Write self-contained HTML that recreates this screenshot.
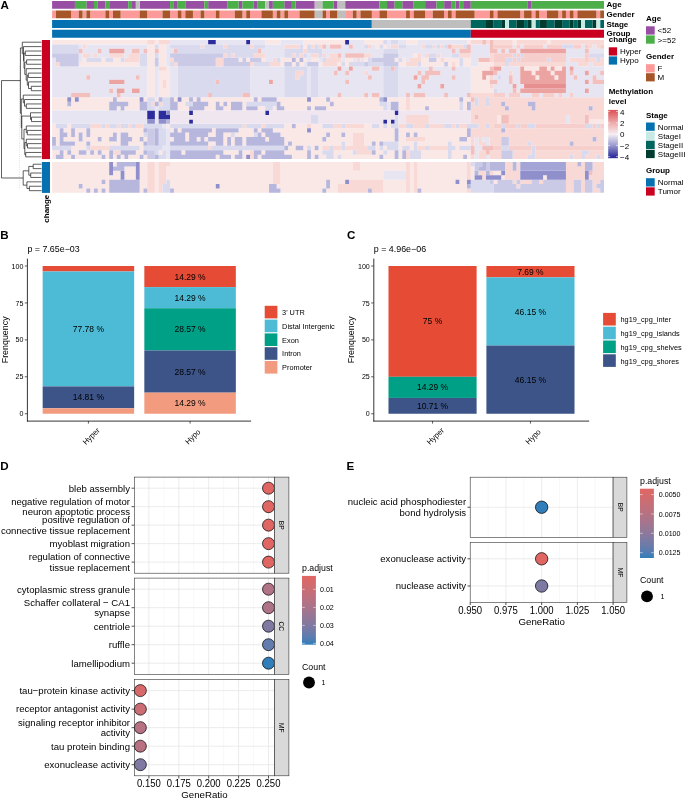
<!DOCTYPE html>
<html lang="en"><head><meta charset="utf-8"><title>Figure</title>
<style>
html,body{margin:0;padding:0;background:#fff}
svg{display:block}
text{font-family:"Liberation Sans",Arial,Helvetica,sans-serif;fill:#000}
</style></head>
<body>
<svg width="685" height="799" viewBox="0 0 685 799">
<rect width="685" height="799" fill="#fff"/>
<g id="annot">
<path fill="#984EA3" d="M52.1 0.9h3.81v7.9h-3.81zM55.91 0.9h3.81v7.9h-3.81zM59.71 0.9h3.81v7.9h-3.81zM63.52 0.9h3.81v7.9h-3.81zM67.32 0.9h3.81v7.9h-3.81zM71.13 0.9h3.81v7.9h-3.81zM86.36 0.9h3.81v7.9h-3.81zM90.16 0.9h3.81v7.9h-3.81zM97.77 0.9h3.81v7.9h-3.81zM101.58 0.9h3.81v7.9h-3.81zM109.19 0.9h3.81v7.9h-3.81zM113 0.9h3.81v7.9h-3.81zM116.81 0.9h3.81v7.9h-3.81zM120.61 0.9h3.81v7.9h-3.81zM124.42 0.9h3.81v7.9h-3.81zM132.03 0.9h3.81v7.9h-3.81zM139.64 0.9h3.81v7.9h-3.81zM143.45 0.9h3.81v7.9h-3.81zM147.26 0.9h3.81v7.9h-3.81zM151.06 0.9h3.81v7.9h-3.81zM154.87 0.9h3.81v7.9h-3.81zM158.67 0.9h3.81v7.9h-3.81zM162.48 0.9h3.81v7.9h-3.81zM166.29 0.9h3.81v7.9h-3.81zM173.9 0.9h3.81v7.9h-3.81zM185.32 0.9h3.81v7.9h-3.81zM189.12 0.9h3.81v7.9h-3.81zM192.93 0.9h3.81v7.9h-3.81zM196.74 0.9h3.81v7.9h-3.81zM200.54 0.9h3.81v7.9h-3.81zM208.15 0.9h3.81v7.9h-3.81zM211.96 0.9h3.81v7.9h-3.81zM215.77 0.9h3.81v7.9h-3.81zM219.57 0.9h3.81v7.9h-3.81zM223.38 0.9h3.81v7.9h-3.81zM238.6 0.9h3.81v7.9h-3.81zM253.83 0.9h3.81v7.9h-3.81zM269.05 0.9h3.81v7.9h-3.81zM284.28 0.9h3.81v7.9h-3.81zM288.08 0.9h3.81v7.9h-3.81zM295.7 0.9h3.81v7.9h-3.81zM299.5 0.9h3.81v7.9h-3.81zM303.31 0.9h3.81v7.9h-3.81zM307.12 0.9h3.81v7.9h-3.81zM310.92 0.9h3.81v7.9h-3.81zM333.76 0.9h3.81v7.9h-3.81zM345.18 0.9h3.81v7.9h-3.81zM348.98 0.9h3.81v7.9h-3.81zM352.79 0.9h3.81v7.9h-3.81zM356.6 0.9h3.81v7.9h-3.81zM360.4 0.9h3.81v7.9h-3.81zM364.21 0.9h3.81v7.9h-3.81zM368.02 0.9h3.81v7.9h-3.81zM371.82 0.9h3.81v7.9h-3.81zM375.63 0.9h3.81v7.9h-3.81zM387.05 0.9h3.81v7.9h-3.81zM390.85 0.9h3.81v7.9h-3.81zM402.27 0.9h3.81v7.9h-3.81zM406.08 0.9h3.81v7.9h-3.81zM409.88 0.9h3.81v7.9h-3.81zM425.11 0.9h3.81v7.9h-3.81zM428.91 0.9h3.81v7.9h-3.81zM432.72 0.9h3.81v7.9h-3.81zM444.14 0.9h3.81v7.9h-3.81zM447.95 0.9h3.81v7.9h-3.81zM455.56 0.9h3.81v7.9h-3.81zM463.17 0.9h3.81v7.9h-3.81zM466.98 0.9h3.81v7.9h-3.81zM527.88 0.9h3.81v7.9h-3.81z"/>
<path fill="#4DAF4A" d="M74.94 0.9h3.81v7.9h-3.81zM78.74 0.9h3.81v7.9h-3.81zM82.55 0.9h3.81v7.9h-3.81zM93.97 0.9h3.81v7.9h-3.81zM105.39 0.9h3.81v7.9h-3.81zM128.22 0.9h3.81v7.9h-3.81zM170.09 0.9h3.81v7.9h-3.81zM177.7 0.9h3.81v7.9h-3.81zM181.51 0.9h3.81v7.9h-3.81zM204.35 0.9h3.81v7.9h-3.81zM227.19 0.9h3.81v7.9h-3.81zM230.99 0.9h3.81v7.9h-3.81zM234.8 0.9h3.81v7.9h-3.81zM242.41 0.9h3.81v7.9h-3.81zM246.22 0.9h3.81v7.9h-3.81zM250.02 0.9h3.81v7.9h-3.81zM257.64 0.9h3.81v7.9h-3.81zM261.44 0.9h3.81v7.9h-3.81zM272.86 0.9h3.81v7.9h-3.81zM276.67 0.9h3.81v7.9h-3.81zM280.47 0.9h3.81v7.9h-3.81zM291.89 0.9h3.81v7.9h-3.81zM322.34 0.9h3.81v7.9h-3.81zM326.15 0.9h3.81v7.9h-3.81zM329.95 0.9h3.81v7.9h-3.81zM379.43 0.9h3.81v7.9h-3.81zM383.24 0.9h3.81v7.9h-3.81zM394.66 0.9h3.81v7.9h-3.81zM398.46 0.9h3.81v7.9h-3.81zM413.69 0.9h3.81v7.9h-3.81zM417.5 0.9h3.81v7.9h-3.81zM421.3 0.9h3.81v7.9h-3.81zM436.53 0.9h3.81v7.9h-3.81zM440.33 0.9h3.81v7.9h-3.81zM451.75 0.9h3.81v7.9h-3.81zM459.36 0.9h3.81v7.9h-3.81zM470.78 0.9h3.81v7.9h-3.81zM474.59 0.9h3.81v7.9h-3.81zM478.4 0.9h3.81v7.9h-3.81zM482.2 0.9h3.81v7.9h-3.81zM486.01 0.9h3.81v7.9h-3.81zM489.81 0.9h3.81v7.9h-3.81zM493.62 0.9h3.81v7.9h-3.81zM497.43 0.9h3.81v7.9h-3.81zM501.23 0.9h3.81v7.9h-3.81zM505.04 0.9h3.81v7.9h-3.81zM508.84 0.9h3.81v7.9h-3.81zM512.65 0.9h3.81v7.9h-3.81zM516.46 0.9h3.81v7.9h-3.81zM520.26 0.9h3.81v7.9h-3.81zM524.07 0.9h3.81v7.9h-3.81zM531.68 0.9h3.81v7.9h-3.81zM535.49 0.9h3.81v7.9h-3.81zM539.29 0.9h3.81v7.9h-3.81zM543.1 0.9h3.81v7.9h-3.81zM546.91 0.9h3.81v7.9h-3.81zM550.71 0.9h3.81v7.9h-3.81zM554.52 0.9h3.81v7.9h-3.81zM558.33 0.9h3.81v7.9h-3.81zM562.13 0.9h3.81v7.9h-3.81zM565.94 0.9h3.81v7.9h-3.81zM569.74 0.9h3.81v7.9h-3.81zM573.55 0.9h3.81v7.9h-3.81zM577.36 0.9h3.81v7.9h-3.81zM581.16 0.9h3.81v7.9h-3.81zM584.97 0.9h3.81v7.9h-3.81zM588.78 0.9h3.81v7.9h-3.81zM592.58 0.9h3.81v7.9h-3.81zM596.39 0.9h3.81v7.9h-3.81zM600.19 0.9h3.81v7.9h-3.81z"/>
<path fill="#BEBEBE" d="M135.84 0.9h3.81v7.9h-3.81zM265.25 0.9h3.81v7.9h-3.81zM314.73 0.9h3.81v7.9h-3.81zM318.53 0.9h3.81v7.9h-3.81zM337.57 0.9h3.81v7.9h-3.81zM341.37 0.9h3.81v7.9h-3.81z"/>
<path fill="#FB9A99" d="M52.1 10.4h3.81v7.9h-3.81zM71.13 10.4h3.81v7.9h-3.81zM74.94 10.4h3.81v7.9h-3.81zM82.55 10.4h3.81v7.9h-3.81zM90.16 10.4h3.81v7.9h-3.81zM93.97 10.4h3.81v7.9h-3.81zM97.77 10.4h3.81v7.9h-3.81zM101.58 10.4h3.81v7.9h-3.81zM109.19 10.4h3.81v7.9h-3.81zM120.61 10.4h3.81v7.9h-3.81zM124.42 10.4h3.81v7.9h-3.81zM128.22 10.4h3.81v7.9h-3.81zM132.03 10.4h3.81v7.9h-3.81zM135.84 10.4h3.81v7.9h-3.81zM147.26 10.4h3.81v7.9h-3.81zM151.06 10.4h3.81v7.9h-3.81zM154.87 10.4h3.81v7.9h-3.81zM158.67 10.4h3.81v7.9h-3.81zM170.09 10.4h3.81v7.9h-3.81zM173.9 10.4h3.81v7.9h-3.81zM181.51 10.4h3.81v7.9h-3.81zM192.93 10.4h3.81v7.9h-3.81zM196.74 10.4h3.81v7.9h-3.81zM204.35 10.4h3.81v7.9h-3.81zM208.15 10.4h3.81v7.9h-3.81zM211.96 10.4h3.81v7.9h-3.81zM219.57 10.4h3.81v7.9h-3.81zM223.38 10.4h3.81v7.9h-3.81zM227.19 10.4h3.81v7.9h-3.81zM230.99 10.4h3.81v7.9h-3.81zM242.41 10.4h3.81v7.9h-3.81zM250.02 10.4h3.81v7.9h-3.81zM253.83 10.4h3.81v7.9h-3.81zM257.64 10.4h3.81v7.9h-3.81zM272.86 10.4h3.81v7.9h-3.81zM280.47 10.4h3.81v7.9h-3.81zM288.08 10.4h3.81v7.9h-3.81zM291.89 10.4h3.81v7.9h-3.81zM295.7 10.4h3.81v7.9h-3.81zM326.15 10.4h3.81v7.9h-3.81zM345.18 10.4h3.81v7.9h-3.81zM348.98 10.4h3.81v7.9h-3.81zM356.6 10.4h3.81v7.9h-3.81zM371.82 10.4h3.81v7.9h-3.81zM375.63 10.4h3.81v7.9h-3.81zM387.05 10.4h3.81v7.9h-3.81zM390.85 10.4h3.81v7.9h-3.81zM394.66 10.4h3.81v7.9h-3.81zM398.46 10.4h3.81v7.9h-3.81zM402.27 10.4h3.81v7.9h-3.81zM409.88 10.4h3.81v7.9h-3.81zM425.11 10.4h3.81v7.9h-3.81zM428.91 10.4h3.81v7.9h-3.81zM444.14 10.4h3.81v7.9h-3.81zM451.75 10.4h3.81v7.9h-3.81zM474.59 10.4h3.81v7.9h-3.81zM478.4 10.4h3.81v7.9h-3.81zM482.2 10.4h3.81v7.9h-3.81zM486.01 10.4h3.81v7.9h-3.81zM493.62 10.4h3.81v7.9h-3.81zM520.26 10.4h3.81v7.9h-3.81zM531.68 10.4h3.81v7.9h-3.81zM539.29 10.4h3.81v7.9h-3.81zM543.1 10.4h3.81v7.9h-3.81zM558.33 10.4h3.81v7.9h-3.81zM565.94 10.4h3.81v7.9h-3.81zM573.55 10.4h3.81v7.9h-3.81zM596.39 10.4h3.81v7.9h-3.81z"/>
<path fill="#A65628" d="M55.91 10.4h3.81v7.9h-3.81zM59.71 10.4h3.81v7.9h-3.81zM63.52 10.4h3.81v7.9h-3.81zM67.32 10.4h3.81v7.9h-3.81zM78.74 10.4h3.81v7.9h-3.81zM86.36 10.4h3.81v7.9h-3.81zM105.39 10.4h3.81v7.9h-3.81zM113 10.4h3.81v7.9h-3.81zM116.81 10.4h3.81v7.9h-3.81zM139.64 10.4h3.81v7.9h-3.81zM143.45 10.4h3.81v7.9h-3.81zM162.48 10.4h3.81v7.9h-3.81zM166.29 10.4h3.81v7.9h-3.81zM177.7 10.4h3.81v7.9h-3.81zM185.32 10.4h3.81v7.9h-3.81zM189.12 10.4h3.81v7.9h-3.81zM200.54 10.4h3.81v7.9h-3.81zM215.77 10.4h3.81v7.9h-3.81zM234.8 10.4h3.81v7.9h-3.81zM238.6 10.4h3.81v7.9h-3.81zM246.22 10.4h3.81v7.9h-3.81zM261.44 10.4h3.81v7.9h-3.81zM265.25 10.4h3.81v7.9h-3.81zM269.05 10.4h3.81v7.9h-3.81zM276.67 10.4h3.81v7.9h-3.81zM284.28 10.4h3.81v7.9h-3.81zM299.5 10.4h3.81v7.9h-3.81zM303.31 10.4h3.81v7.9h-3.81zM307.12 10.4h3.81v7.9h-3.81zM310.92 10.4h3.81v7.9h-3.81zM322.34 10.4h3.81v7.9h-3.81zM329.95 10.4h3.81v7.9h-3.81zM333.76 10.4h3.81v7.9h-3.81zM352.79 10.4h3.81v7.9h-3.81zM360.4 10.4h3.81v7.9h-3.81zM364.21 10.4h3.81v7.9h-3.81zM368.02 10.4h3.81v7.9h-3.81zM379.43 10.4h3.81v7.9h-3.81zM383.24 10.4h3.81v7.9h-3.81zM406.08 10.4h3.81v7.9h-3.81zM413.69 10.4h3.81v7.9h-3.81zM417.5 10.4h3.81v7.9h-3.81zM421.3 10.4h3.81v7.9h-3.81zM432.72 10.4h3.81v7.9h-3.81zM436.53 10.4h3.81v7.9h-3.81zM440.33 10.4h3.81v7.9h-3.81zM447.95 10.4h3.81v7.9h-3.81zM455.56 10.4h3.81v7.9h-3.81zM459.36 10.4h3.81v7.9h-3.81zM463.17 10.4h3.81v7.9h-3.81zM466.98 10.4h3.81v7.9h-3.81zM470.78 10.4h3.81v7.9h-3.81zM489.81 10.4h3.81v7.9h-3.81zM497.43 10.4h3.81v7.9h-3.81zM501.23 10.4h3.81v7.9h-3.81zM505.04 10.4h3.81v7.9h-3.81zM508.84 10.4h3.81v7.9h-3.81zM512.65 10.4h3.81v7.9h-3.81zM516.46 10.4h3.81v7.9h-3.81zM524.07 10.4h3.81v7.9h-3.81zM527.88 10.4h3.81v7.9h-3.81zM535.49 10.4h3.81v7.9h-3.81zM546.91 10.4h3.81v7.9h-3.81zM550.71 10.4h3.81v7.9h-3.81zM554.52 10.4h3.81v7.9h-3.81zM562.13 10.4h3.81v7.9h-3.81zM569.74 10.4h3.81v7.9h-3.81zM577.36 10.4h3.81v7.9h-3.81zM581.16 10.4h3.81v7.9h-3.81zM584.97 10.4h3.81v7.9h-3.81zM588.78 10.4h3.81v7.9h-3.81zM592.58 10.4h3.81v7.9h-3.81zM600.19 10.4h3.81v7.9h-3.81z"/>
<path fill="#BEBEBE" d="M314.73 10.4h3.81v7.9h-3.81zM318.53 10.4h3.81v7.9h-3.81zM337.57 10.4h3.81v7.9h-3.81zM341.37 10.4h3.81v7.9h-3.81z"/>
<path fill="#0571B0" d="M52.1 20h3.81v7.9h-3.81zM55.91 20h3.81v7.9h-3.81zM59.71 20h3.81v7.9h-3.81zM63.52 20h3.81v7.9h-3.81zM67.32 20h3.81v7.9h-3.81zM71.13 20h3.81v7.9h-3.81zM74.94 20h3.81v7.9h-3.81zM78.74 20h3.81v7.9h-3.81zM82.55 20h3.81v7.9h-3.81zM86.36 20h3.81v7.9h-3.81zM90.16 20h3.81v7.9h-3.81zM93.97 20h3.81v7.9h-3.81zM97.77 20h3.81v7.9h-3.81zM101.58 20h3.81v7.9h-3.81zM105.39 20h3.81v7.9h-3.81zM109.19 20h3.81v7.9h-3.81zM113 20h3.81v7.9h-3.81zM116.81 20h3.81v7.9h-3.81zM120.61 20h3.81v7.9h-3.81zM124.42 20h3.81v7.9h-3.81zM128.22 20h3.81v7.9h-3.81zM132.03 20h3.81v7.9h-3.81zM135.84 20h3.81v7.9h-3.81zM139.64 20h3.81v7.9h-3.81zM143.45 20h3.81v7.9h-3.81zM147.26 20h3.81v7.9h-3.81zM151.06 20h3.81v7.9h-3.81zM154.87 20h3.81v7.9h-3.81zM158.67 20h3.81v7.9h-3.81zM162.48 20h3.81v7.9h-3.81zM166.29 20h3.81v7.9h-3.81zM170.09 20h3.81v7.9h-3.81zM173.9 20h3.81v7.9h-3.81zM177.7 20h3.81v7.9h-3.81zM181.51 20h3.81v7.9h-3.81zM185.32 20h3.81v7.9h-3.81zM189.12 20h3.81v7.9h-3.81zM192.93 20h3.81v7.9h-3.81zM196.74 20h3.81v7.9h-3.81zM200.54 20h3.81v7.9h-3.81zM204.35 20h3.81v7.9h-3.81zM208.15 20h3.81v7.9h-3.81zM211.96 20h3.81v7.9h-3.81zM215.77 20h3.81v7.9h-3.81zM219.57 20h3.81v7.9h-3.81zM223.38 20h3.81v7.9h-3.81zM227.19 20h3.81v7.9h-3.81zM230.99 20h3.81v7.9h-3.81zM234.8 20h3.81v7.9h-3.81zM238.6 20h3.81v7.9h-3.81zM242.41 20h3.81v7.9h-3.81zM246.22 20h3.81v7.9h-3.81zM250.02 20h3.81v7.9h-3.81zM253.83 20h3.81v7.9h-3.81zM257.64 20h3.81v7.9h-3.81zM261.44 20h3.81v7.9h-3.81zM265.25 20h3.81v7.9h-3.81zM269.05 20h3.81v7.9h-3.81zM272.86 20h3.81v7.9h-3.81zM276.67 20h3.81v7.9h-3.81zM280.47 20h3.81v7.9h-3.81zM284.28 20h3.81v7.9h-3.81zM288.08 20h3.81v7.9h-3.81zM291.89 20h3.81v7.9h-3.81zM295.7 20h3.81v7.9h-3.81zM299.5 20h3.81v7.9h-3.81zM303.31 20h3.81v7.9h-3.81zM307.12 20h3.81v7.9h-3.81zM310.92 20h3.81v7.9h-3.81zM314.73 20h3.81v7.9h-3.81zM318.53 20h3.81v7.9h-3.81zM322.34 20h3.81v7.9h-3.81zM326.15 20h3.81v7.9h-3.81zM329.95 20h3.81v7.9h-3.81zM333.76 20h3.81v7.9h-3.81zM337.57 20h3.81v7.9h-3.81zM341.37 20h3.81v7.9h-3.81zM345.18 20h3.81v7.9h-3.81zM348.98 20h3.81v7.9h-3.81zM352.79 20h3.81v7.9h-3.81zM356.6 20h3.81v7.9h-3.81zM360.4 20h3.81v7.9h-3.81zM364.21 20h3.81v7.9h-3.81zM368.02 20h3.81v7.9h-3.81z"/>
<path fill="#BEBEBE" d="M371.82 20h3.81v7.9h-3.81zM375.63 20h3.81v7.9h-3.81zM379.43 20h3.81v7.9h-3.81zM383.24 20h3.81v7.9h-3.81zM387.05 20h3.81v7.9h-3.81zM390.85 20h3.81v7.9h-3.81zM394.66 20h3.81v7.9h-3.81zM398.46 20h3.81v7.9h-3.81zM402.27 20h3.81v7.9h-3.81zM406.08 20h3.81v7.9h-3.81zM409.88 20h3.81v7.9h-3.81zM413.69 20h3.81v7.9h-3.81zM417.5 20h3.81v7.9h-3.81zM421.3 20h3.81v7.9h-3.81zM425.11 20h3.81v7.9h-3.81zM428.91 20h3.81v7.9h-3.81zM432.72 20h3.81v7.9h-3.81zM436.53 20h3.81v7.9h-3.81zM440.33 20h3.81v7.9h-3.81zM444.14 20h3.81v7.9h-3.81zM447.95 20h3.81v7.9h-3.81zM451.75 20h3.81v7.9h-3.81zM455.56 20h3.81v7.9h-3.81zM459.36 20h3.81v7.9h-3.81zM463.17 20h3.81v7.9h-3.81zM466.98 20h3.81v7.9h-3.81z"/>
<path fill="#01665E" d="M470.78 20h3.81v7.9h-3.81zM474.59 20h3.81v7.9h-3.81zM478.4 20h3.81v7.9h-3.81zM482.2 20h3.81v7.9h-3.81zM493.62 20h3.81v7.9h-3.81zM497.43 20h3.81v7.9h-3.81zM508.84 20h3.81v7.9h-3.81zM512.65 20h3.81v7.9h-3.81zM524.07 20h3.81v7.9h-3.81zM535.49 20h3.81v7.9h-3.81zM546.91 20h3.81v7.9h-3.81zM550.71 20h3.81v7.9h-3.81zM562.13 20h3.81v7.9h-3.81zM565.94 20h3.81v7.9h-3.81zM573.55 20h3.81v7.9h-3.81zM584.97 20h3.81v7.9h-3.81zM588.78 20h3.81v7.9h-3.81zM600.19 20h3.81v7.9h-3.81z"/>
<path fill="#003C30" d="M486.01 20h3.81v7.9h-3.81zM489.81 20h3.81v7.9h-3.81zM501.23 20h3.81v7.9h-3.81zM516.46 20h3.81v7.9h-3.81zM520.26 20h3.81v7.9h-3.81zM527.88 20h3.81v7.9h-3.81zM539.29 20h3.81v7.9h-3.81zM543.1 20h3.81v7.9h-3.81zM554.52 20h3.81v7.9h-3.81zM558.33 20h3.81v7.9h-3.81zM569.74 20h3.81v7.9h-3.81zM577.36 20h3.81v7.9h-3.81zM592.58 20h3.81v7.9h-3.81z"/>
<path fill="#C7EAE5" d="M505.04 20h3.81v7.9h-3.81zM531.68 20h3.81v7.9h-3.81zM581.16 20h3.81v7.9h-3.81zM596.39 20h3.81v7.9h-3.81z"/>
<path fill="#0571B0" d="M52.1 29.8h3.81v7.9h-3.81zM55.91 29.8h3.81v7.9h-3.81zM59.71 29.8h3.81v7.9h-3.81zM63.52 29.8h3.81v7.9h-3.81zM67.32 29.8h3.81v7.9h-3.81zM71.13 29.8h3.81v7.9h-3.81zM74.94 29.8h3.81v7.9h-3.81zM78.74 29.8h3.81v7.9h-3.81zM82.55 29.8h3.81v7.9h-3.81zM86.36 29.8h3.81v7.9h-3.81zM90.16 29.8h3.81v7.9h-3.81zM93.97 29.8h3.81v7.9h-3.81zM97.77 29.8h3.81v7.9h-3.81zM101.58 29.8h3.81v7.9h-3.81zM105.39 29.8h3.81v7.9h-3.81zM109.19 29.8h3.81v7.9h-3.81zM113 29.8h3.81v7.9h-3.81zM116.81 29.8h3.81v7.9h-3.81zM120.61 29.8h3.81v7.9h-3.81zM124.42 29.8h3.81v7.9h-3.81zM128.22 29.8h3.81v7.9h-3.81zM132.03 29.8h3.81v7.9h-3.81zM135.84 29.8h3.81v7.9h-3.81zM139.64 29.8h3.81v7.9h-3.81zM143.45 29.8h3.81v7.9h-3.81zM147.26 29.8h3.81v7.9h-3.81zM151.06 29.8h3.81v7.9h-3.81zM154.87 29.8h3.81v7.9h-3.81zM158.67 29.8h3.81v7.9h-3.81zM162.48 29.8h3.81v7.9h-3.81zM166.29 29.8h3.81v7.9h-3.81zM170.09 29.8h3.81v7.9h-3.81zM173.9 29.8h3.81v7.9h-3.81zM177.7 29.8h3.81v7.9h-3.81zM181.51 29.8h3.81v7.9h-3.81zM185.32 29.8h3.81v7.9h-3.81zM189.12 29.8h3.81v7.9h-3.81zM192.93 29.8h3.81v7.9h-3.81zM196.74 29.8h3.81v7.9h-3.81zM200.54 29.8h3.81v7.9h-3.81zM204.35 29.8h3.81v7.9h-3.81zM208.15 29.8h3.81v7.9h-3.81zM211.96 29.8h3.81v7.9h-3.81zM215.77 29.8h3.81v7.9h-3.81zM219.57 29.8h3.81v7.9h-3.81zM223.38 29.8h3.81v7.9h-3.81zM227.19 29.8h3.81v7.9h-3.81zM230.99 29.8h3.81v7.9h-3.81zM234.8 29.8h3.81v7.9h-3.81zM238.6 29.8h3.81v7.9h-3.81zM242.41 29.8h3.81v7.9h-3.81zM246.22 29.8h3.81v7.9h-3.81zM250.02 29.8h3.81v7.9h-3.81zM253.83 29.8h3.81v7.9h-3.81zM257.64 29.8h3.81v7.9h-3.81zM261.44 29.8h3.81v7.9h-3.81zM265.25 29.8h3.81v7.9h-3.81zM269.05 29.8h3.81v7.9h-3.81zM272.86 29.8h3.81v7.9h-3.81zM276.67 29.8h3.81v7.9h-3.81zM280.47 29.8h3.81v7.9h-3.81zM284.28 29.8h3.81v7.9h-3.81zM288.08 29.8h3.81v7.9h-3.81zM291.89 29.8h3.81v7.9h-3.81zM295.7 29.8h3.81v7.9h-3.81zM299.5 29.8h3.81v7.9h-3.81zM303.31 29.8h3.81v7.9h-3.81zM307.12 29.8h3.81v7.9h-3.81zM310.92 29.8h3.81v7.9h-3.81zM314.73 29.8h3.81v7.9h-3.81zM318.53 29.8h3.81v7.9h-3.81zM322.34 29.8h3.81v7.9h-3.81zM326.15 29.8h3.81v7.9h-3.81zM329.95 29.8h3.81v7.9h-3.81zM333.76 29.8h3.81v7.9h-3.81zM337.57 29.8h3.81v7.9h-3.81zM341.37 29.8h3.81v7.9h-3.81zM345.18 29.8h3.81v7.9h-3.81zM348.98 29.8h3.81v7.9h-3.81zM352.79 29.8h3.81v7.9h-3.81zM356.6 29.8h3.81v7.9h-3.81zM360.4 29.8h3.81v7.9h-3.81zM364.21 29.8h3.81v7.9h-3.81zM368.02 29.8h3.81v7.9h-3.81zM371.82 29.8h3.81v7.9h-3.81zM375.63 29.8h3.81v7.9h-3.81zM379.43 29.8h3.81v7.9h-3.81zM383.24 29.8h3.81v7.9h-3.81zM387.05 29.8h3.81v7.9h-3.81zM390.85 29.8h3.81v7.9h-3.81zM394.66 29.8h3.81v7.9h-3.81zM398.46 29.8h3.81v7.9h-3.81zM402.27 29.8h3.81v7.9h-3.81zM406.08 29.8h3.81v7.9h-3.81zM409.88 29.8h3.81v7.9h-3.81zM413.69 29.8h3.81v7.9h-3.81zM417.5 29.8h3.81v7.9h-3.81zM421.3 29.8h3.81v7.9h-3.81zM425.11 29.8h3.81v7.9h-3.81zM428.91 29.8h3.81v7.9h-3.81zM432.72 29.8h3.81v7.9h-3.81zM436.53 29.8h3.81v7.9h-3.81zM440.33 29.8h3.81v7.9h-3.81zM444.14 29.8h3.81v7.9h-3.81zM447.95 29.8h3.81v7.9h-3.81zM451.75 29.8h3.81v7.9h-3.81zM455.56 29.8h3.81v7.9h-3.81zM459.36 29.8h3.81v7.9h-3.81zM463.17 29.8h3.81v7.9h-3.81zM466.98 29.8h3.81v7.9h-3.81z"/>
<path fill="#CA0020" d="M470.78 29.8h3.81v7.9h-3.81zM474.59 29.8h3.81v7.9h-3.81zM478.4 29.8h3.81v7.9h-3.81zM482.2 29.8h3.81v7.9h-3.81zM486.01 29.8h3.81v7.9h-3.81zM489.81 29.8h3.81v7.9h-3.81zM493.62 29.8h3.81v7.9h-3.81zM497.43 29.8h3.81v7.9h-3.81zM501.23 29.8h3.81v7.9h-3.81zM505.04 29.8h3.81v7.9h-3.81zM508.84 29.8h3.81v7.9h-3.81zM512.65 29.8h3.81v7.9h-3.81zM516.46 29.8h3.81v7.9h-3.81zM520.26 29.8h3.81v7.9h-3.81zM524.07 29.8h3.81v7.9h-3.81zM527.88 29.8h3.81v7.9h-3.81zM531.68 29.8h3.81v7.9h-3.81zM535.49 29.8h3.81v7.9h-3.81zM539.29 29.8h3.81v7.9h-3.81zM543.1 29.8h3.81v7.9h-3.81zM546.91 29.8h3.81v7.9h-3.81zM550.71 29.8h3.81v7.9h-3.81zM554.52 29.8h3.81v7.9h-3.81zM558.33 29.8h3.81v7.9h-3.81zM562.13 29.8h3.81v7.9h-3.81zM565.94 29.8h3.81v7.9h-3.81zM569.74 29.8h3.81v7.9h-3.81zM573.55 29.8h3.81v7.9h-3.81zM577.36 29.8h3.81v7.9h-3.81zM581.16 29.8h3.81v7.9h-3.81zM584.97 29.8h3.81v7.9h-3.81zM588.78 29.8h3.81v7.9h-3.81zM592.58 29.8h3.81v7.9h-3.81zM596.39 29.8h3.81v7.9h-3.81zM600.19 29.8h3.81v7.9h-3.81z"/>
</g>
<g id="heat">
<path fill="#FAE8E6" d="M52.1 40h95.16v4.41h-95.16zM154.87 40h3.81v4.41h-3.81zM265.25 40h15.22v4.41h-15.22zM303.31 40h41.87v4.41h-41.87zM364.21 40h19.03v4.41h-19.03zM406.08 40h11.42v4.41h-11.42zM466.98 40h3.81v4.41h-3.81zM512.65 40h3.81v4.41h-3.81zM546.91 40h3.81v4.41h-3.81zM147.26 44.41h7.61v4.41h-7.61zM158.67 44.41h7.61v4.41h-7.61zM303.31 44.41h3.81v4.41h-3.81zM375.63 44.41h3.81v4.41h-3.81zM383.24 44.41h3.81v4.41h-3.81zM147.26 48.82h7.61v4.41h-7.61zM158.67 48.82h7.61v4.41h-7.61zM147.26 53.23h7.61v4.41h-7.61zM158.67 53.23h7.61v4.41h-7.61zM413.69 53.23h3.81v4.41h-3.81zM82.55 57.64h3.81v4.41h-3.81zM101.58 57.64h3.81v4.41h-3.81zM113 57.64h7.61v4.41h-7.61zM147.26 57.64h7.61v4.41h-7.61zM158.67 57.64h7.61v4.41h-7.61zM238.6 57.64h3.81v4.41h-3.81zM246.22 57.64h3.81v4.41h-3.81zM261.44 57.64h3.81v4.41h-3.81zM280.47 57.64h11.42v4.41h-11.42zM295.7 57.64h3.81v4.41h-3.81zM303.31 57.64h3.81v4.41h-3.81zM310.92 57.64h7.61v4.41h-7.61zM345.18 57.64h7.61v4.41h-7.61zM364.21 57.64h3.81v4.41h-3.81zM394.66 57.64h3.81v4.41h-3.81zM402.27 57.64h3.81v4.41h-3.81zM421.3 57.64h7.61v4.41h-7.61zM436.53 57.64h3.81v4.41h-3.81zM444.14 57.64h15.22v4.41h-15.22zM463.17 57.64h7.61v4.41h-7.61zM78.74 62.05h60.9v4.41h-60.9zM147.26 62.05h7.61v4.41h-7.61zM158.67 62.05h7.61v4.41h-7.61zM280.47 62.05h3.81v4.41h-3.81zM291.89 62.05h3.81v4.41h-3.81zM299.5 62.05h3.81v4.41h-3.81zM318.53 62.05h3.81v4.41h-3.81zM337.57 62.05h3.81v4.41h-3.81zM345.18 62.05h3.81v4.41h-3.81zM398.46 62.05h7.61v4.41h-7.61zM421.3 62.05h22.84v4.41h-22.84zM447.95 62.05h3.81v4.41h-3.81zM455.56 62.05h3.81v4.41h-3.81zM463.17 62.05h7.61v4.41h-7.61zM478.4 62.05h15.22v4.41h-15.22zM147.26 66.46h7.61v4.41h-7.61zM166.29 66.46h3.81v4.41h-3.81zM470.78 66.46h19.03v4.41h-19.03zM524.07 66.46h15.22v4.41h-15.22zM546.91 66.46h3.81v4.41h-3.81zM554.52 66.46h7.61v4.41h-7.61zM147.26 70.87h7.61v4.41h-7.61zM158.67 70.87h11.42v4.41h-11.42zM470.78 70.87h11.42v4.41h-11.42zM531.68 70.87h3.81v4.41h-3.81zM550.71 70.87h3.81v4.41h-3.81zM147.26 75.28h7.61v4.41h-7.61zM158.67 75.28h11.42v4.41h-11.42zM470.78 75.28h11.42v4.41h-11.42zM486.01 75.28h3.81v4.41h-3.81zM535.49 75.28h3.81v4.41h-3.81zM554.52 75.28h3.81v4.41h-3.81zM147.26 79.69h7.61v4.41h-7.61zM158.67 79.69h3.81v4.41h-3.81zM166.29 79.69h3.81v4.41h-3.81zM470.78 79.69h19.03v4.41h-19.03zM147.26 84.1h7.61v4.41h-7.61zM158.67 84.1h3.81v4.41h-3.81zM166.29 84.1h3.81v4.41h-3.81zM470.78 84.1h19.03v4.41h-19.03zM147.26 88.51h7.61v4.41h-7.61zM158.67 88.51h11.42v4.41h-11.42zM470.78 88.51h22.84v4.41h-22.84zM147.26 92.92h7.61v4.41h-7.61zM158.67 92.92h11.42v4.41h-11.42zM52.1 97.33h15.22v4.41h-15.22zM71.13 97.33h3.81v4.41h-3.81zM78.74 97.33h34.26v4.41h-34.26zM116.81 97.33h22.84v4.41h-22.84zM143.45 97.33h3.81v4.41h-3.81zM154.87 97.33h3.81v4.41h-3.81zM173.9 97.33h3.81v4.41h-3.81zM181.51 97.33h7.61v4.41h-7.61zM192.93 97.33h3.81v4.41h-3.81zM200.54 97.33h53.29v4.41h-53.29zM257.64 97.33h3.81v4.41h-3.81zM276.67 97.33h30.45v4.41h-30.45zM310.92 97.33h15.22v4.41h-15.22zM329.95 97.33h49.48v4.41h-49.48zM387.05 97.33h19.03v4.41h-19.03zM409.88 97.33h49.48v4.41h-49.48zM463.17 97.33h7.61v4.41h-7.61zM52.1 101.74h15.22v4.41h-15.22zM71.13 101.74h38.06v4.41h-38.06zM128.22 101.74h11.42v4.41h-11.42zM177.7 101.74h7.61v4.41h-7.61zM208.15 101.74h7.61v4.41h-7.61zM219.57 101.74h3.81v4.41h-3.81zM227.19 101.74h3.81v4.41h-3.81zM242.41 101.74h3.81v4.41h-3.81zM280.47 101.74h49.48v4.41h-49.48zM333.76 101.74h45.67v4.41h-45.67zM398.46 101.74h7.61v4.41h-7.61zM409.88 101.74h49.48v4.41h-49.48zM463.17 101.74h3.81v4.41h-3.81zM52.1 106.15h57.09v4.41h-57.09zM116.81 106.15h3.81v4.41h-3.81zM124.42 106.15h15.22v4.41h-15.22zM177.7 106.15h11.42v4.41h-11.42zM204.35 106.15h11.42v4.41h-11.42zM223.38 106.15h7.61v4.41h-7.61zM242.41 106.15h3.81v4.41h-3.81zM257.64 106.15h7.61v4.41h-7.61zM272.86 106.15h3.81v4.41h-3.81zM284.28 106.15h22.84v4.41h-22.84zM310.92 106.15h3.81v4.41h-3.81zM326.15 106.15h57.09v4.41h-57.09zM398.46 106.15h7.61v4.41h-7.61zM409.88 106.15h15.22v4.41h-15.22zM428.91 106.15h30.45v4.41h-30.45zM463.17 106.15h3.81v4.41h-3.81zM497.43 114.97h3.81v4.41h-3.81zM497.43 119.38h3.81v4.41h-3.81zM588.78 119.38h15.22v4.41h-15.22zM52.1 123.79h3.81v4.41h-3.81zM67.32 123.79h3.81v4.41h-3.81zM166.29 123.79h3.81v4.41h-3.81zM284.28 123.79h7.61v4.41h-7.61zM295.7 123.79h11.42v4.41h-11.42zM310.92 123.79h11.42v4.41h-11.42zM364.21 123.79h7.61v4.41h-7.61zM379.43 123.79h3.81v4.41h-3.81zM387.05 123.79h3.81v4.41h-3.81zM52.1 128.2h7.61v4.41h-7.61zM63.52 128.2h7.61v4.41h-7.61zM74.94 128.2h11.42v4.41h-11.42zM90.16 128.2h53.29v4.41h-53.29zM170.09 128.2h3.81v4.41h-3.81zM177.7 128.2h3.81v4.41h-3.81zM211.96 128.2h3.81v4.41h-3.81zM238.6 128.2h15.22v4.41h-15.22zM257.64 128.2h3.81v4.41h-3.81zM272.86 128.2h34.26v4.41h-34.26zM310.92 128.2h83.74v4.41h-83.74zM398.46 128.2h68.51v4.41h-68.51zM52.1 132.61h7.61v4.41h-7.61zM67.32 132.61h3.81v4.41h-3.81zM74.94 132.61h3.81v4.41h-3.81zM82.55 132.61h3.81v4.41h-3.81zM90.16 132.61h22.84v4.41h-22.84zM116.81 132.61h3.81v4.41h-3.81zM128.22 132.61h15.22v4.41h-15.22zM185.32 132.61h3.81v4.41h-3.81zM208.15 132.61h7.61v4.41h-7.61zM223.38 132.61h7.61v4.41h-7.61zM234.8 132.61h19.03v4.41h-19.03zM261.44 132.61h3.81v4.41h-3.81zM280.47 132.61h45.67v4.41h-45.67zM329.95 132.61h11.42v4.41h-11.42zM345.18 132.61h7.61v4.41h-7.61zM364.21 132.61h30.45v4.41h-30.45zM398.46 132.61h7.61v4.41h-7.61zM409.88 132.61h3.81v4.41h-3.81zM417.5 132.61h49.48v4.41h-49.48zM55.91 137.02h3.81v4.41h-3.81zM63.52 137.02h15.22v4.41h-15.22zM82.55 137.02h15.22v4.41h-15.22zM101.58 137.02h7.61v4.41h-7.61zM116.81 137.02h3.81v4.41h-3.81zM132.03 137.02h7.61v4.41h-7.61zM143.45 137.02h3.81v4.41h-3.81zM170.09 137.02h3.81v4.41h-3.81zM185.32 137.02h3.81v4.41h-3.81zM196.74 137.02h3.81v4.41h-3.81zM204.35 137.02h3.81v4.41h-3.81zM223.38 137.02h3.81v4.41h-3.81zM230.99 137.02h3.81v4.41h-3.81zM242.41 137.02h3.81v4.41h-3.81zM265.25 137.02h3.81v4.41h-3.81zM284.28 137.02h38.06v4.41h-38.06zM326.15 137.02h26.64v4.41h-26.64zM364.21 137.02h30.45v4.41h-30.45zM398.46 137.02h7.61v4.41h-7.61zM425.11 137.02h34.26v4.41h-34.26zM466.98 137.02h3.81v4.41h-3.81zM55.91 141.43h3.81v4.41h-3.81zM74.94 141.43h11.42v4.41h-11.42zM90.16 141.43h30.45v4.41h-30.45zM128.22 141.43h15.22v4.41h-15.22zM208.15 141.43h7.61v4.41h-7.61zM223.38 141.43h3.81v4.41h-3.81zM230.99 141.43h3.81v4.41h-3.81zM242.41 141.43h3.81v4.41h-3.81zM284.28 141.43h3.81v4.41h-3.81zM291.89 141.43h49.48v4.41h-49.48zM345.18 141.43h7.61v4.41h-7.61zM364.21 141.43h7.61v4.41h-7.61zM375.63 141.43h3.81v4.41h-3.81zM398.46 141.43h15.22v4.41h-15.22zM417.5 141.43h30.45v4.41h-30.45zM451.75 141.43h19.03v4.41h-19.03zM71.13 145.84h15.22v4.41h-15.22zM139.64 145.84h3.81v4.41h-3.81zM288.08 145.84h7.61v4.41h-7.61zM303.31 145.84h3.81v4.41h-3.81zM310.92 145.84h3.81v4.41h-3.81zM318.53 145.84h3.81v4.41h-3.81zM375.63 145.84h3.81v4.41h-3.81zM383.24 145.84h3.81v4.41h-3.81zM398.46 145.84h3.81v4.41h-3.81zM409.88 145.84h3.81v4.41h-3.81zM455.56 145.84h3.81v4.41h-3.81zM52.1 150.25h7.61v4.41h-7.61zM63.52 150.25h3.81v4.41h-3.81zM71.13 150.25h7.61v4.41h-7.61zM86.36 150.25h3.81v4.41h-3.81zM93.97 150.25h3.81v4.41h-3.81zM101.58 150.25h7.61v4.41h-7.61zM135.84 150.25h7.61v4.41h-7.61zM158.67 150.25h3.81v4.41h-3.81zM181.51 150.25h3.81v4.41h-3.81zM223.38 150.25h15.22v4.41h-15.22zM242.41 150.25h7.61v4.41h-7.61zM261.44 150.25h3.81v4.41h-3.81zM284.28 150.25h22.84v4.41h-22.84zM310.92 150.25h11.42v4.41h-11.42zM333.76 150.25h19.03v4.41h-19.03zM375.63 150.25h7.61v4.41h-7.61zM387.05 150.25h7.61v4.41h-7.61zM398.46 150.25h3.81v4.41h-3.81zM421.3 150.25h26.64v4.41h-26.64zM451.75 150.25h19.03v4.41h-19.03zM52.1 154.66h3.81v4.41h-3.81zM63.52 154.66h7.61v4.41h-7.61zM74.94 154.66h26.64v4.41h-26.64zM105.39 154.66h3.81v4.41h-3.81zM113 154.66h3.81v4.41h-3.81zM120.61 154.66h3.81v4.41h-3.81zM128.22 154.66h11.42v4.41h-11.42zM143.45 154.66h3.81v4.41h-3.81zM215.77 154.66h3.81v4.41h-3.81zM230.99 154.66h3.81v4.41h-3.81zM242.41 154.66h3.81v4.41h-3.81zM257.64 154.66h3.81v4.41h-3.81zM291.89 154.66h15.22v4.41h-15.22zM310.92 154.66h3.81v4.41h-3.81zM318.53 154.66h7.61v4.41h-7.61zM333.76 154.66h3.81v4.41h-3.81zM341.37 154.66h38.06v4.41h-38.06zM383.24 154.66h11.42v4.41h-11.42zM398.46 154.66h3.81v4.41h-3.81zM421.3 154.66h26.64v4.41h-26.64zM451.75 154.66h11.42v4.41h-11.42zM466.98 154.66h3.81v4.41h-3.81zM52.1 162h57.09v4.41h-57.09zM113 162h3.81v4.41h-3.81zM139.64 162h7.61v4.41h-7.61zM154.87 162h3.81v4.41h-3.81zM170.09 162h102.77v4.41h-102.77zM280.47 162h72.32v4.41h-72.32zM360.4 162h45.67v4.41h-45.67zM409.88 162h3.81v4.41h-3.81zM417.5 162h49.48v4.41h-49.48zM52.1 166.41h57.09v4.41h-57.09zM124.42 166.41h11.42v4.41h-11.42zM139.64 166.41h7.61v4.41h-7.61zM154.87 166.41h3.81v4.41h-3.81zM166.29 166.41h106.57v4.41h-106.57zM280.47 166.41h72.32v4.41h-72.32zM360.4 166.41h45.67v4.41h-45.67zM409.88 166.41h3.81v4.41h-3.81zM417.5 166.41h49.48v4.41h-49.48zM470.78 166.41h3.81v4.41h-3.81zM52.1 170.82h57.09v4.41h-57.09zM113 170.82h7.61v4.41h-7.61zM124.42 170.82h11.42v4.41h-11.42zM139.64 170.82h7.61v4.41h-7.61zM154.87 170.82h3.81v4.41h-3.81zM166.29 170.82h106.57v4.41h-106.57zM280.47 170.82h102.77v4.41h-102.77zM409.88 170.82h3.81v4.41h-3.81zM417.5 170.82h49.48v4.41h-49.48zM470.78 170.82h3.81v4.41h-3.81zM493.62 170.82h7.61v4.41h-7.61zM52.1 175.23h68.51v4.41h-68.51zM124.42 175.23h11.42v4.41h-11.42zM139.64 175.23h7.61v4.41h-7.61zM154.87 175.23h3.81v4.41h-3.81zM166.29 175.23h106.57v4.41h-106.57zM280.47 175.23h102.77v4.41h-102.77zM409.88 175.23h3.81v4.41h-3.81zM417.5 175.23h49.48v4.41h-49.48zM470.78 175.23h3.81v4.41h-3.81zM501.23 175.23h3.81v4.41h-3.81zM543.1 175.23h3.81v4.41h-3.81zM52.1 179.64h49.48v4.41h-49.48zM105.39 179.64h3.81v4.41h-3.81zM139.64 179.64h7.61v4.41h-7.61zM154.87 179.64h3.81v4.41h-3.81zM170.09 179.64h102.77v4.41h-102.77zM280.47 179.64h45.67v4.41h-45.67zM329.95 179.64h15.22v4.41h-15.22zM383.24 179.64h22.84v4.41h-22.84zM409.88 179.64h3.81v4.41h-3.81zM417.5 179.64h38.06v4.41h-38.06zM459.36 179.64h7.61v4.41h-7.61zM493.62 179.64h3.81v4.41h-3.81zM52.1 184.05h26.64v4.41h-26.64zM82.55 184.05h26.64v4.41h-26.64zM139.64 184.05h7.61v4.41h-7.61zM154.87 184.05h3.81v4.41h-3.81zM170.09 184.05h45.67v4.41h-45.67zM219.57 184.05h49.48v4.41h-49.48zM276.67 184.05h49.48v4.41h-49.48zM329.95 184.05h7.61v4.41h-7.61zM383.24 184.05h22.84v4.41h-22.84zM409.88 184.05h3.81v4.41h-3.81zM417.5 184.05h49.48v4.41h-49.48zM52.1 188.46h34.26v4.41h-34.26zM90.16 188.46h3.81v4.41h-3.81zM97.77 188.46h3.81v4.41h-3.81zM105.39 188.46h3.81v4.41h-3.81zM139.64 188.46h3.81v4.41h-3.81zM154.87 188.46h3.81v4.41h-3.81zM173.9 188.46h95.16v4.41h-95.16zM280.47 188.46h41.87v4.41h-41.87zM326.15 188.46h11.42v4.41h-11.42zM383.24 188.46h22.84v4.41h-22.84zM409.88 188.46h3.81v4.41h-3.81zM421.3 188.46h45.67v4.41h-45.67z"/>
<path fill="#F8D9D6" d="M147.26 40h7.61v4.41h-7.61zM158.67 40h11.42v4.41h-11.42zM470.78 40h11.42v4.41h-11.42zM486.01 40h3.81v4.41h-3.81zM493.62 40h19.03v4.41h-19.03zM516.46 40h30.45v4.41h-30.45zM550.71 40h53.29v4.41h-53.29zM82.55 44.41h3.81v4.41h-3.81zM200.54 44.41h3.81v4.41h-3.81zM223.38 44.41h3.81v4.41h-3.81zM250.02 44.41h3.81v4.41h-3.81zM284.28 44.41h15.22v4.41h-15.22zM310.92 44.41h3.81v4.41h-3.81zM318.53 44.41h3.81v4.41h-3.81zM368.02 44.41h3.81v4.41h-3.81zM390.85 44.41h7.61v4.41h-7.61zM421.3 44.41h3.81v4.41h-3.81zM432.72 44.41h3.81v4.41h-3.81zM440.33 44.41h3.81v4.41h-3.81zM451.75 44.41h11.42v4.41h-11.42zM588.78 44.41h3.81v4.41h-3.81zM596.39 44.41h3.81v4.41h-3.81zM303.31 48.82h3.81v4.41h-3.81zM82.55 53.23h7.61v4.41h-7.61zM93.97 53.23h3.81v4.41h-3.81zM109.19 53.23h15.22v4.41h-15.22zM128.22 53.23h11.42v4.41h-11.42zM223.38 53.23h3.81v4.41h-3.81zM230.99 53.23h3.81v4.41h-3.81zM253.83 53.23h11.42v4.41h-11.42zM291.89 53.23h3.81v4.41h-3.81zM299.5 53.23h3.81v4.41h-3.81zM310.92 53.23h7.61v4.41h-7.61zM322.34 53.23h3.81v4.41h-3.81zM329.95 53.23h7.61v4.41h-7.61zM364.21 53.23h7.61v4.41h-7.61zM417.5 53.23h3.81v4.41h-3.81zM425.11 53.23h3.81v4.41h-3.81zM436.53 53.23h3.81v4.41h-3.81zM459.36 53.23h11.42v4.41h-11.42zM489.81 53.23h3.81v4.41h-3.81zM124.42 57.64h15.22v4.41h-15.22zM170.09 57.64h3.81v4.41h-3.81zM215.77 57.64h7.61v4.41h-7.61zM272.86 57.64h3.81v4.41h-3.81zM326.15 57.64h15.22v4.41h-15.22zM356.6 57.64h3.81v4.41h-3.81zM409.88 57.64h11.42v4.41h-11.42zM440.33 57.64h3.81v4.41h-3.81zM489.81 57.64h3.81v4.41h-3.81zM569.74 57.64h15.22v4.41h-15.22zM588.78 57.64h7.61v4.41h-7.61zM600.19 57.64h3.81v4.41h-3.81zM55.91 62.05h3.81v4.41h-3.81zM173.9 62.05h3.81v4.41h-3.81zM215.77 62.05h7.61v4.41h-7.61zM250.02 62.05h3.81v4.41h-3.81zM269.05 62.05h11.42v4.41h-11.42zM322.34 62.05h15.22v4.41h-15.22zM406.08 62.05h11.42v4.41h-11.42zM451.75 62.05h3.81v4.41h-3.81zM493.62 62.05h11.42v4.41h-11.42zM508.84 62.05h57.09v4.41h-57.09zM577.36 62.05h11.42v4.41h-11.42zM592.58 62.05h11.42v4.41h-11.42zM158.67 66.46h7.61v4.41h-7.61zM295.7 70.87h7.61v4.41h-7.61zM364.21 70.87h3.81v4.41h-3.81zM508.84 70.87h3.81v4.41h-3.81zM295.7 75.28h3.81v4.41h-3.81zM489.81 75.28h3.81v4.41h-3.81zM162.48 79.69h3.81v4.41h-3.81zM162.48 84.1h3.81v4.41h-3.81zM489.81 84.1h3.81v4.41h-3.81zM470.78 92.92h22.84v4.41h-22.84zM406.08 97.33h3.81v4.41h-3.81zM478.4 97.33h7.61v4.41h-7.61zM489.81 97.33h114.19v4.41h-114.19zM151.06 101.74h3.81v4.41h-3.81zM158.67 101.74h3.81v4.41h-3.81zM406.08 101.74h3.81v4.41h-3.81zM470.78 101.74h3.81v4.41h-3.81zM478.4 101.74h7.61v4.41h-7.61zM489.81 101.74h11.42v4.41h-11.42zM505.04 101.74h22.84v4.41h-22.84zM535.49 101.74h68.51v4.41h-68.51zM406.08 106.15h3.81v4.41h-3.81zM470.78 106.15h34.26v4.41h-34.26zM508.84 106.15h22.84v4.41h-22.84zM535.49 106.15h53.29v4.41h-53.29zM592.58 106.15h11.42v4.41h-11.42zM470.78 110.56h133.22v4.41h-133.22zM406.08 114.97h22.84v4.41h-22.84zM470.78 114.97h3.81v4.41h-3.81zM478.4 114.97h19.03v4.41h-19.03zM508.84 114.97h57.09v4.41h-57.09zM569.74 114.97h15.22v4.41h-15.22zM588.78 114.97h15.22v4.41h-15.22zM406.08 119.38h22.84v4.41h-22.84zM470.78 119.38h26.64v4.41h-26.64zM508.84 119.38h57.09v4.41h-57.09zM569.74 119.38h15.22v4.41h-15.22zM90.16 123.79h11.42v4.41h-11.42zM105.39 123.79h3.81v4.41h-3.81zM116.81 123.79h3.81v4.41h-3.81zM128.22 123.79h3.81v4.41h-3.81zM135.84 123.79h7.61v4.41h-7.61zM242.41 123.79h3.81v4.41h-3.81zM261.44 123.79h3.81v4.41h-3.81zM307.12 123.79h3.81v4.41h-3.81zM333.76 123.79h7.61v4.41h-7.61zM345.18 123.79h19.03v4.41h-19.03zM398.46 123.79h7.61v4.41h-7.61zM413.69 123.79h11.42v4.41h-11.42zM428.91 123.79h15.22v4.41h-15.22zM451.75 123.79h3.81v4.41h-3.81zM459.36 123.79h7.61v4.41h-7.61zM478.4 123.79h7.61v4.41h-7.61zM489.81 123.79h3.81v4.41h-3.81zM470.78 128.2h30.45v4.41h-30.45zM505.04 128.2h98.96v4.41h-98.96zM352.79 132.61h11.42v4.41h-11.42zM470.78 132.61h133.22v4.41h-133.22zM352.79 137.02h11.42v4.41h-11.42zM406.08 137.02h19.03v4.41h-19.03zM470.78 137.02h3.81v4.41h-3.81zM478.4 137.02h3.81v4.41h-3.81zM489.81 137.02h11.42v4.41h-11.42zM508.84 137.02h83.74v4.41h-83.74zM596.39 137.02h7.61v4.41h-7.61zM352.79 141.43h11.42v4.41h-11.42zM470.78 141.43h3.81v4.41h-3.81zM478.4 141.43h7.61v4.41h-7.61zM489.81 141.43h11.42v4.41h-11.42zM508.84 141.43h19.03v4.41h-19.03zM531.68 141.43h38.06v4.41h-38.06zM573.55 141.43h30.45v4.41h-30.45zM90.16 145.84h19.03v4.41h-19.03zM208.15 145.84h3.81v4.41h-3.81zM322.34 145.84h7.61v4.41h-7.61zM333.76 145.84h7.61v4.41h-7.61zM345.18 145.84h22.84v4.41h-22.84zM417.5 145.84h7.61v4.41h-7.61zM428.91 145.84h19.03v4.41h-19.03zM113 150.25h7.61v4.41h-7.61zM250.02 150.25h3.81v4.41h-3.81zM356.6 150.25h15.22v4.41h-15.22zM406.08 150.25h3.81v4.41h-3.81zM478.4 150.25h7.61v4.41h-7.61zM489.81 150.25h11.42v4.41h-11.42zM512.65 150.25h19.03v4.41h-19.03zM535.49 150.25h45.67v4.41h-45.67zM588.78 150.25h15.22v4.41h-15.22zM250.02 154.66h3.81v4.41h-3.81zM406.08 154.66h3.81v4.41h-3.81zM470.78 154.66h3.81v4.41h-3.81zM478.4 154.66h7.61v4.41h-7.61zM489.81 154.66h11.42v4.41h-11.42zM512.65 154.66h15.22v4.41h-15.22zM535.49 154.66h34.26v4.41h-34.26zM573.55 154.66h7.61v4.41h-7.61zM584.97 154.66h11.42v4.41h-11.42zM600.19 154.66h3.81v4.41h-3.81zM147.26 162h7.61v4.41h-7.61zM158.67 162h11.42v4.41h-11.42zM272.86 162h7.61v4.41h-7.61zM352.79 162h7.61v4.41h-7.61zM406.08 162h3.81v4.41h-3.81zM413.69 162h3.81v4.41h-3.81zM466.98 162h3.81v4.41h-3.81zM505.04 162h7.61v4.41h-7.61zM516.46 162h3.81v4.41h-3.81zM565.94 162h11.42v4.41h-11.42zM581.16 162h3.81v4.41h-3.81zM592.58 162h11.42v4.41h-11.42zM147.26 166.41h7.61v4.41h-7.61zM158.67 166.41h7.61v4.41h-7.61zM272.86 166.41h7.61v4.41h-7.61zM352.79 166.41h7.61v4.41h-7.61zM406.08 166.41h3.81v4.41h-3.81zM413.69 166.41h3.81v4.41h-3.81zM466.98 166.41h3.81v4.41h-3.81zM505.04 166.41h7.61v4.41h-7.61zM516.46 166.41h3.81v4.41h-3.81zM565.94 166.41h19.03v4.41h-19.03zM592.58 166.41h11.42v4.41h-11.42zM147.26 170.82h7.61v4.41h-7.61zM158.67 170.82h7.61v4.41h-7.61zM272.86 170.82h7.61v4.41h-7.61zM406.08 170.82h3.81v4.41h-3.81zM413.69 170.82h3.81v4.41h-3.81zM466.98 170.82h3.81v4.41h-3.81zM478.4 170.82h7.61v4.41h-7.61zM489.81 170.82h3.81v4.41h-3.81zM505.04 170.82h15.22v4.41h-15.22zM565.94 170.82h19.03v4.41h-19.03zM592.58 170.82h11.42v4.41h-11.42zM147.26 175.23h7.61v4.41h-7.61zM158.67 175.23h7.61v4.41h-7.61zM272.86 175.23h7.61v4.41h-7.61zM406.08 175.23h3.81v4.41h-3.81zM413.69 175.23h3.81v4.41h-3.81zM466.98 175.23h3.81v4.41h-3.81zM482.2 175.23h3.81v4.41h-3.81zM505.04 175.23h15.22v4.41h-15.22zM565.94 175.23h19.03v4.41h-19.03zM588.78 175.23h15.22v4.41h-15.22zM147.26 179.64h7.61v4.41h-7.61zM158.67 179.64h7.61v4.41h-7.61zM272.86 179.64h7.61v4.41h-7.61zM348.98 179.64h34.26v4.41h-34.26zM406.08 179.64h3.81v4.41h-3.81zM413.69 179.64h3.81v4.41h-3.81zM512.65 179.64h3.81v4.41h-3.81zM520.26 179.64h11.42v4.41h-11.42zM539.29 179.64h3.81v4.41h-3.81zM565.94 179.64h7.61v4.41h-7.61zM581.16 179.64h3.81v4.41h-3.81zM592.58 179.64h7.61v4.41h-7.61zM147.26 184.05h7.61v4.41h-7.61zM158.67 184.05h3.81v4.41h-3.81zM337.57 184.05h45.67v4.41h-45.67zM406.08 184.05h3.81v4.41h-3.81zM413.69 184.05h3.81v4.41h-3.81zM516.46 184.05h3.81v4.41h-3.81zM565.94 184.05h7.61v4.41h-7.61zM581.16 184.05h3.81v4.41h-3.81zM592.58 184.05h3.81v4.41h-3.81zM147.26 188.46h7.61v4.41h-7.61zM158.67 188.46h3.81v4.41h-3.81zM337.57 188.46h30.45v4.41h-30.45zM371.82 188.46h11.42v4.41h-11.42zM406.08 188.46h3.81v4.41h-3.81zM413.69 188.46h3.81v4.41h-3.81zM466.98 188.46h3.81v4.41h-3.81zM565.94 188.46h7.61v4.41h-7.61zM581.16 188.46h3.81v4.41h-3.81zM592.58 188.46h7.61v4.41h-7.61z"/>
<path fill="#E8E5F3" d="M170.09 40h38.06v4.41h-38.06zM215.77 40h30.45v4.41h-30.45zM250.02 40h15.22v4.41h-15.22zM280.47 40h22.84v4.41h-22.84zM348.98 40h15.22v4.41h-15.22zM387.05 40h3.81v4.41h-3.81zM398.46 40h7.61v4.41h-7.61zM417.5 40h49.48v4.41h-49.48zM78.74 44.41h3.81v4.41h-3.81zM86.36 44.41h60.9v4.41h-60.9zM166.29 44.41h3.81v4.41h-3.81zM265.25 44.41h19.03v4.41h-19.03zM326.15 44.41h3.81v4.41h-3.81zM341.37 44.41h7.61v4.41h-7.61zM352.79 44.41h11.42v4.41h-11.42zM371.82 44.41h3.81v4.41h-3.81zM387.05 44.41h3.81v4.41h-3.81zM406.08 44.41h15.22v4.41h-15.22zM470.78 44.41h19.03v4.41h-19.03zM512.65 44.41h3.81v4.41h-3.81zM520.26 44.41h3.81v4.41h-3.81zM543.1 44.41h3.81v4.41h-3.81zM581.16 44.41h3.81v4.41h-3.81zM592.58 44.41h3.81v4.41h-3.81zM82.55 48.82h15.22v4.41h-15.22zM101.58 48.82h7.61v4.41h-7.61zM124.42 48.82h7.61v4.41h-7.61zM139.64 48.82h3.81v4.41h-3.81zM166.29 48.82h7.61v4.41h-7.61zM261.44 48.82h22.84v4.41h-22.84zM322.34 48.82h60.9v4.41h-60.9zM398.46 48.82h53.29v4.41h-53.29zM455.56 48.82h3.81v4.41h-3.81zM470.78 48.82h19.03v4.41h-19.03zM497.43 48.82h3.81v4.41h-3.81zM505.04 48.82h3.81v4.41h-3.81zM516.46 48.82h3.81v4.41h-3.81zM565.94 48.82h19.03v4.41h-19.03zM588.78 48.82h15.22v4.41h-15.22zM78.74 53.23h3.81v4.41h-3.81zM90.16 53.23h3.81v4.41h-3.81zM97.77 53.23h11.42v4.41h-11.42zM124.42 53.23h3.81v4.41h-3.81zM166.29 53.23h3.81v4.41h-3.81zM265.25 53.23h19.03v4.41h-19.03zM307.12 53.23h3.81v4.41h-3.81zM326.15 53.23h3.81v4.41h-3.81zM341.37 53.23h3.81v4.41h-3.81zM371.82 53.23h11.42v4.41h-11.42zM398.46 53.23h15.22v4.41h-15.22zM421.3 53.23h3.81v4.41h-3.81zM440.33 53.23h11.42v4.41h-11.42zM470.78 53.23h19.03v4.41h-19.03zM565.94 53.23h19.03v4.41h-19.03zM52.1 57.64h3.81v4.41h-3.81zM78.74 57.64h3.81v4.41h-3.81zM166.29 57.64h3.81v4.41h-3.81zM265.25 57.64h7.61v4.41h-7.61zM307.12 57.64h3.81v4.41h-3.81zM318.53 57.64h3.81v4.41h-3.81zM341.37 57.64h3.81v4.41h-3.81zM352.79 57.64h3.81v4.41h-3.81zM360.4 57.64h3.81v4.41h-3.81zM406.08 57.64h3.81v4.41h-3.81zM470.78 57.64h7.61v4.41h-7.61zM565.94 57.64h3.81v4.41h-3.81zM52.1 62.05h3.81v4.41h-3.81zM166.29 62.05h3.81v4.41h-3.81zM303.31 62.05h3.81v4.41h-3.81zM470.78 62.05h7.61v4.41h-7.61zM565.94 62.05h11.42v4.41h-11.42zM588.78 62.05h3.81v4.41h-3.81zM52.1 66.46h95.16v4.41h-95.16zM154.87 66.46h3.81v4.41h-3.81zM170.09 66.46h7.61v4.41h-7.61zM250.02 66.46h34.26v4.41h-34.26zM307.12 66.46h3.81v4.41h-3.81zM318.53 66.46h19.03v4.41h-19.03zM341.37 66.46h7.61v4.41h-7.61zM352.79 66.46h19.03v4.41h-19.03zM379.43 66.46h3.81v4.41h-3.81zM398.46 66.46h30.45v4.41h-30.45zM432.72 66.46h19.03v4.41h-19.03zM455.56 66.46h15.22v4.41h-15.22zM501.23 66.46h19.03v4.41h-19.03zM565.94 66.46h3.81v4.41h-3.81zM573.55 66.46h30.45v4.41h-30.45zM52.1 70.87h95.16v4.41h-95.16zM154.87 70.87h3.81v4.41h-3.81zM170.09 70.87h7.61v4.41h-7.61zM250.02 70.87h34.26v4.41h-34.26zM307.12 70.87h3.81v4.41h-3.81zM318.53 70.87h15.22v4.41h-15.22zM337.57 70.87h7.61v4.41h-7.61zM348.98 70.87h15.22v4.41h-15.22zM368.02 70.87h15.22v4.41h-15.22zM398.46 70.87h19.03v4.41h-19.03zM421.3 70.87h3.81v4.41h-3.81zM440.33 70.87h30.45v4.41h-30.45zM497.43 70.87h11.42v4.41h-11.42zM512.65 70.87h7.61v4.41h-7.61zM565.94 70.87h3.81v4.41h-3.81zM573.55 70.87h11.42v4.41h-11.42zM588.78 70.87h11.42v4.41h-11.42zM52.1 75.28h34.26v4.41h-34.26zM90.16 75.28h45.67v4.41h-45.67zM139.64 75.28h7.61v4.41h-7.61zM154.87 75.28h3.81v4.41h-3.81zM170.09 75.28h7.61v4.41h-7.61zM250.02 75.28h34.26v4.41h-34.26zM307.12 75.28h3.81v4.41h-3.81zM318.53 75.28h49.48v4.41h-49.48zM371.82 75.28h11.42v4.41h-11.42zM398.46 75.28h15.22v4.41h-15.22zM417.5 75.28h3.81v4.41h-3.81zM428.91 75.28h22.84v4.41h-22.84zM455.56 75.28h15.22v4.41h-15.22zM493.62 75.28h3.81v4.41h-3.81zM501.23 75.28h7.61v4.41h-7.61zM512.65 75.28h7.61v4.41h-7.61zM565.94 75.28h7.61v4.41h-7.61zM577.36 75.28h15.22v4.41h-15.22zM596.39 75.28h7.61v4.41h-7.61zM52.1 79.69h57.09v4.41h-57.09zM124.42 79.69h22.84v4.41h-22.84zM154.87 79.69h3.81v4.41h-3.81zM170.09 79.69h7.61v4.41h-7.61zM250.02 79.69h19.03v4.41h-19.03zM272.86 79.69h11.42v4.41h-11.42zM307.12 79.69h3.81v4.41h-3.81zM318.53 79.69h26.64v4.41h-26.64zM348.98 79.69h34.26v4.41h-34.26zM398.46 79.69h22.84v4.41h-22.84zM425.11 79.69h45.67v4.41h-45.67zM497.43 79.69h11.42v4.41h-11.42zM512.65 79.69h7.61v4.41h-7.61zM565.94 79.69h19.03v4.41h-19.03zM588.78 79.69h3.81v4.41h-3.81zM52.1 84.1h95.16v4.41h-95.16zM154.87 84.1h3.81v4.41h-3.81zM170.09 84.1h7.61v4.41h-7.61zM250.02 84.1h34.26v4.41h-34.26zM307.12 84.1h3.81v4.41h-3.81zM318.53 84.1h64.71v4.41h-64.71zM398.46 84.1h19.03v4.41h-19.03zM421.3 84.1h19.03v4.41h-19.03zM444.14 84.1h26.64v4.41h-26.64zM493.62 84.1h19.03v4.41h-19.03zM516.46 84.1h7.61v4.41h-7.61zM565.94 84.1h38.06v4.41h-38.06zM52.1 88.51h57.09v4.41h-57.09zM113 88.51h3.81v4.41h-3.81zM124.42 88.51h7.61v4.41h-7.61zM139.64 88.51h7.61v4.41h-7.61zM154.87 88.51h3.81v4.41h-3.81zM170.09 88.51h7.61v4.41h-7.61zM250.02 88.51h34.26v4.41h-34.26zM307.12 88.51h3.81v4.41h-3.81zM318.53 88.51h64.71v4.41h-64.71zM398.46 88.51h72.32v4.41h-72.32zM497.43 88.51h15.22v4.41h-15.22zM516.46 88.51h3.81v4.41h-3.81zM565.94 88.51h19.03v4.41h-19.03zM588.78 88.51h15.22v4.41h-15.22zM52.1 92.92h19.03v4.41h-19.03zM90.16 92.92h26.64v4.41h-26.64zM120.61 92.92h26.64v4.41h-26.64zM154.87 92.92h3.81v4.41h-3.81zM170.09 92.92h7.61v4.41h-7.61zM250.02 92.92h34.26v4.41h-34.26zM307.12 92.92h3.81v4.41h-3.81zM318.53 92.92h19.03v4.41h-19.03zM341.37 92.92h22.84v4.41h-22.84zM368.02 92.92h3.81v4.41h-3.81zM379.43 92.92h3.81v4.41h-3.81zM398.46 92.92h7.61v4.41h-7.61zM409.88 92.92h3.81v4.41h-3.81zM425.11 92.92h19.03v4.41h-19.03zM447.95 92.92h19.03v4.41h-19.03zM505.04 92.92h3.81v4.41h-3.81zM520.26 92.92h11.42v4.41h-11.42zM539.29 92.92h3.81v4.41h-3.81zM554.52 92.92h3.81v4.41h-3.81zM562.13 92.92h7.61v4.41h-7.61zM573.55 92.92h30.45v4.41h-30.45zM387.05 101.74h3.81v4.41h-3.81zM154.87 106.15h3.81v4.41h-3.81zM387.05 106.15h3.81v4.41h-3.81zM52.1 110.56h95.16v4.41h-95.16zM154.87 110.56h3.81v4.41h-3.81zM52.1 114.97h95.16v4.41h-95.16zM154.87 114.97h3.81v4.41h-3.81zM565.94 114.97h3.81v4.41h-3.81zM52.1 119.38h95.16v4.41h-95.16zM154.87 119.38h3.81v4.41h-3.81zM565.94 119.38h3.81v4.41h-3.81zM162.48 123.79h3.81v4.41h-3.81zM166.29 128.2h3.81v4.41h-3.81zM166.29 132.61h3.81v4.41h-3.81zM166.29 137.02h3.81v4.41h-3.81zM474.59 137.02h3.81v4.41h-3.81zM482.2 137.02h7.61v4.41h-7.61zM166.29 141.43h3.81v4.41h-3.81zM474.59 141.43h3.81v4.41h-3.81zM486.01 141.43h3.81v4.41h-3.81zM162.48 145.84h7.61v4.41h-7.61zM474.59 145.84h7.61v4.41h-7.61zM166.29 150.25h3.81v4.41h-3.81zM474.59 150.25h3.81v4.41h-3.81zM166.29 154.66h3.81v4.41h-3.81zM474.59 154.66h3.81v4.41h-3.81zM486.01 154.66h3.81v4.41h-3.81zM383.24 170.82h22.84v4.41h-22.84zM383.24 175.23h22.84v4.41h-22.84z"/>
<path fill="#2C2C9C" d="M208.15 40h7.61v4.41h-7.61zM246.22 40h3.81v4.41h-3.81zM345.18 40h3.81v4.41h-3.81zM147.26 110.56h7.61v4.41h-7.61zM158.67 110.56h7.61v4.41h-7.61zM189.12 110.56h3.81v4.41h-3.81zM265.25 110.56h3.81v4.41h-3.81zM394.66 110.56h3.81v4.41h-3.81zM147.26 114.97h7.61v4.41h-7.61zM158.67 114.97h11.42v4.41h-11.42zM189.12 119.38h3.81v4.41h-3.81zM383.24 119.38h3.81v4.41h-3.81zM390.85 119.38h3.81v4.41h-3.81z"/>
<path fill="#DADAEE" d="M383.24 40h3.81v4.41h-3.81zM390.85 40h7.61v4.41h-7.61zM52.1 44.41h26.64v4.41h-26.64zM154.87 44.41h3.81v4.41h-3.81zM170.09 44.41h30.45v4.41h-30.45zM204.35 44.41h19.03v4.41h-19.03zM227.19 44.41h22.84v4.41h-22.84zM253.83 44.41h11.42v4.41h-11.42zM299.5 44.41h3.81v4.41h-3.81zM307.12 44.41h3.81v4.41h-3.81zM314.73 44.41h3.81v4.41h-3.81zM364.21 44.41h3.81v4.41h-3.81zM379.43 44.41h3.81v4.41h-3.81zM398.46 44.41h7.61v4.41h-7.61zM425.11 44.41h7.61v4.41h-7.61zM436.53 44.41h3.81v4.41h-3.81zM444.14 44.41h3.81v4.41h-3.81zM463.17 44.41h3.81v4.41h-3.81zM562.13 44.41h11.42v4.41h-11.42zM52.1 48.82h26.64v4.41h-26.64zM177.7 48.82h79.93v4.41h-79.93zM284.28 48.82h19.03v4.41h-19.03zM307.12 48.82h15.22v4.41h-15.22zM383.24 48.82h15.22v4.41h-15.22zM139.64 53.23h7.61v4.41h-7.61zM154.87 53.23h3.81v4.41h-3.81zM227.19 53.23h3.81v4.41h-3.81zM234.8 53.23h19.03v4.41h-19.03zM284.28 53.23h7.61v4.41h-7.61zM295.7 53.23h3.81v4.41h-3.81zM303.31 53.23h3.81v4.41h-3.81zM318.53 53.23h3.81v4.41h-3.81zM428.91 53.23h7.61v4.41h-7.61zM451.75 53.23h7.61v4.41h-7.61zM512.65 53.23h3.81v4.41h-3.81zM520.26 53.23h3.81v4.41h-3.81zM588.78 53.23h15.22v4.41h-15.22zM86.36 57.64h15.22v4.41h-15.22zM105.39 57.64h7.61v4.41h-7.61zM120.61 57.64h3.81v4.41h-3.81zM139.64 57.64h7.61v4.41h-7.61zM276.67 57.64h3.81v4.41h-3.81zM322.34 57.64h3.81v4.41h-3.81zM368.02 57.64h3.81v4.41h-3.81zM398.46 57.64h3.81v4.41h-3.81zM459.36 57.64h3.81v4.41h-3.81zM505.04 57.64h7.61v4.41h-7.61zM516.46 57.64h3.81v4.41h-3.81zM546.91 57.64h3.81v4.41h-3.81zM596.39 57.64h3.81v4.41h-3.81zM139.64 62.05h7.61v4.41h-7.61zM170.09 62.05h3.81v4.41h-3.81zM253.83 62.05h15.22v4.41h-15.22zM341.37 62.05h3.81v4.41h-3.81zM348.98 62.05h15.22v4.41h-15.22zM368.02 62.05h15.22v4.41h-15.22zM417.5 62.05h3.81v4.41h-3.81zM459.36 62.05h3.81v4.41h-3.81zM505.04 62.05h3.81v4.41h-3.81zM177.7 66.46h72.32v4.41h-72.32zM284.28 66.46h22.84v4.41h-22.84zM310.92 66.46h7.61v4.41h-7.61zM383.24 66.46h7.61v4.41h-7.61zM394.66 66.46h3.81v4.41h-3.81zM177.7 70.87h72.32v4.41h-72.32zM284.28 70.87h11.42v4.41h-11.42zM303.31 70.87h3.81v4.41h-3.81zM310.92 70.87h7.61v4.41h-7.61zM383.24 70.87h15.22v4.41h-15.22zM177.7 75.28h72.32v4.41h-72.32zM284.28 75.28h11.42v4.41h-11.42zM299.5 75.28h7.61v4.41h-7.61zM310.92 75.28h7.61v4.41h-7.61zM383.24 75.28h15.22v4.41h-15.22zM497.43 75.28h3.81v4.41h-3.81zM177.7 79.69h38.06v4.41h-38.06zM219.57 79.69h30.45v4.41h-30.45zM284.28 79.69h22.84v4.41h-22.84zM310.92 79.69h7.61v4.41h-7.61zM383.24 79.69h15.22v4.41h-15.22zM177.7 84.1h72.32v4.41h-72.32zM284.28 84.1h22.84v4.41h-22.84zM310.92 84.1h7.61v4.41h-7.61zM383.24 84.1h15.22v4.41h-15.22zM177.7 88.51h72.32v4.41h-72.32zM284.28 88.51h22.84v4.41h-22.84zM310.92 88.51h7.61v4.41h-7.61zM383.24 88.51h15.22v4.41h-15.22zM493.62 88.51h3.81v4.41h-3.81zM177.7 92.92h30.45v4.41h-30.45zM211.96 92.92h30.45v4.41h-30.45zM284.28 92.92h22.84v4.41h-22.84zM310.92 92.92h7.61v4.41h-7.61zM383.24 92.92h15.22v4.41h-15.22zM147.26 97.33h7.61v4.41h-7.61zM162.48 97.33h7.61v4.41h-7.61zM474.59 97.33h3.81v4.41h-3.81zM486.01 97.33h3.81v4.41h-3.81zM147.26 101.74h3.81v4.41h-3.81zM162.48 101.74h7.61v4.41h-7.61zM185.32 101.74h7.61v4.41h-7.61zM246.22 101.74h30.45v4.41h-30.45zM379.43 101.74h7.61v4.41h-7.61zM459.36 101.74h3.81v4.41h-3.81zM474.59 101.74h3.81v4.41h-3.81zM486.01 101.74h3.81v4.41h-3.81zM147.26 106.15h7.61v4.41h-7.61zM158.67 106.15h11.42v4.41h-11.42zM265.25 106.15h7.61v4.41h-7.61zM383.24 106.15h3.81v4.41h-3.81zM459.36 106.15h3.81v4.41h-3.81zM310.92 114.97h7.61v4.41h-7.61zM394.66 114.97h3.81v4.41h-3.81zM310.92 119.38h7.61v4.41h-7.61zM394.66 119.38h3.81v4.41h-3.81zM55.91 123.79h11.42v4.41h-11.42zM71.13 123.79h19.03v4.41h-19.03zM101.58 123.79h3.81v4.41h-3.81zM109.19 123.79h7.61v4.41h-7.61zM120.61 123.79h7.61v4.41h-7.61zM132.03 123.79h3.81v4.41h-3.81zM143.45 123.79h19.03v4.41h-19.03zM170.09 123.79h72.32v4.41h-72.32zM246.22 123.79h15.22v4.41h-15.22zM265.25 123.79h19.03v4.41h-19.03zM322.34 123.79h11.42v4.41h-11.42zM341.37 123.79h3.81v4.41h-3.81zM371.82 123.79h7.61v4.41h-7.61zM383.24 123.79h3.81v4.41h-3.81zM390.85 123.79h7.61v4.41h-7.61zM406.08 123.79h7.61v4.41h-7.61zM425.11 123.79h3.81v4.41h-3.81zM444.14 123.79h7.61v4.41h-7.61zM455.56 123.79h3.81v4.41h-3.81zM466.98 123.79h11.42v4.41h-11.42zM486.01 123.79h3.81v4.41h-3.81zM501.23 123.79h3.81v4.41h-3.81zM516.46 123.79h3.81v4.41h-3.81zM527.88 123.79h7.61v4.41h-7.61zM584.97 123.79h7.61v4.41h-7.61zM596.39 123.79h3.81v4.41h-3.81zM158.67 128.2h7.61v4.41h-7.61zM143.45 132.61h3.81v4.41h-3.81zM158.67 132.61h7.61v4.41h-7.61zM230.99 132.61h3.81v4.41h-3.81zM253.83 132.61h3.81v4.41h-3.81zM158.67 137.02h7.61v4.41h-7.61zM158.67 141.43h7.61v4.41h-7.61zM341.37 141.43h3.81v4.41h-3.81zM383.24 141.43h15.22v4.41h-15.22zM413.69 141.43h3.81v4.41h-3.81zM447.95 141.43h3.81v4.41h-3.81zM527.88 141.43h3.81v4.41h-3.81zM52.1 145.84h19.03v4.41h-19.03zM86.36 145.84h3.81v4.41h-3.81zM109.19 145.84h30.45v4.41h-30.45zM143.45 145.84h19.03v4.41h-19.03zM170.09 145.84h38.06v4.41h-38.06zM211.96 145.84h72.32v4.41h-72.32zM307.12 145.84h3.81v4.41h-3.81zM329.95 145.84h3.81v4.41h-3.81zM341.37 145.84h3.81v4.41h-3.81zM368.02 145.84h7.61v4.41h-7.61zM379.43 145.84h3.81v4.41h-3.81zM387.05 145.84h11.42v4.41h-11.42zM402.27 145.84h7.61v4.41h-7.61zM413.69 145.84h3.81v4.41h-3.81zM425.11 145.84h3.81v4.41h-3.81zM447.95 145.84h7.61v4.41h-7.61zM459.36 145.84h11.42v4.41h-11.42zM501.23 145.84h7.61v4.41h-7.61zM531.68 145.84h3.81v4.41h-3.81zM154.87 150.25h3.81v4.41h-3.81zM162.48 150.25h3.81v4.41h-3.81zM322.34 150.25h11.42v4.41h-11.42zM352.79 150.25h3.81v4.41h-3.81zM383.24 150.25h3.81v4.41h-3.81zM409.88 150.25h11.42v4.41h-11.42zM447.95 150.25h3.81v4.41h-3.81zM531.68 150.25h3.81v4.41h-3.81zM581.16 150.25h7.61v4.41h-7.61zM158.67 154.66h7.61v4.41h-7.61zM326.15 154.66h7.61v4.41h-7.61zM337.57 154.66h3.81v4.41h-3.81zM409.88 154.66h11.42v4.41h-11.42zM447.95 154.66h3.81v4.41h-3.81zM527.88 154.66h7.61v4.41h-7.61zM569.74 154.66h3.81v4.41h-3.81zM581.16 154.66h3.81v4.41h-3.81zM596.39 154.66h3.81v4.41h-3.81zM470.78 162h3.81v4.41h-3.81zM166.29 179.64h3.81v4.41h-3.81zM470.78 179.64h19.03v4.41h-19.03zM162.48 184.05h7.61v4.41h-7.61zM470.78 184.05h22.84v4.41h-22.84zM162.48 188.46h7.61v4.41h-7.61zM470.78 188.46h22.84v4.41h-22.84z"/>
<path fill="#F3BFBC" d="M482.2 40h3.81v4.41h-3.81zM489.81 40h3.81v4.41h-3.81zM322.34 44.41h3.81v4.41h-3.81zM329.95 44.41h11.42v4.41h-11.42zM348.98 44.41h3.81v4.41h-3.81zM447.95 44.41h3.81v4.41h-3.81zM466.98 44.41h3.81v4.41h-3.81zM489.81 44.41h3.81v4.41h-3.81zM78.74 48.82h3.81v4.41h-3.81zM97.77 48.82h3.81v4.41h-3.81zM132.03 48.82h7.61v4.41h-7.61zM143.45 48.82h3.81v4.41h-3.81zM154.87 48.82h3.81v4.41h-3.81zM173.9 48.82h3.81v4.41h-3.81zM257.64 48.82h3.81v4.41h-3.81zM451.75 48.82h3.81v4.41h-3.81zM459.36 48.82h11.42v4.41h-11.42zM489.81 48.82h7.61v4.41h-7.61zM501.23 48.82h3.81v4.41h-3.81zM508.84 48.82h7.61v4.41h-7.61zM584.97 48.82h3.81v4.41h-3.81zM337.57 53.23h3.81v4.41h-3.81zM345.18 53.23h19.03v4.41h-19.03zM478.4 57.64h11.42v4.41h-11.42zM371.82 66.46h7.61v4.41h-7.61zM390.85 66.46h3.81v4.41h-3.81zM428.91 66.46h3.81v4.41h-3.81zM451.75 66.46h3.81v4.41h-3.81zM489.81 66.46h3.81v4.41h-3.81zM333.76 70.87h3.81v4.41h-3.81zM345.18 70.87h3.81v4.41h-3.81zM417.5 70.87h3.81v4.41h-3.81zM425.11 70.87h15.22v4.41h-15.22zM493.62 70.87h3.81v4.41h-3.81zM569.74 70.87h3.81v4.41h-3.81zM600.19 70.87h3.81v4.41h-3.81zM86.36 75.28h3.81v4.41h-3.81zM135.84 75.28h3.81v4.41h-3.81zM368.02 75.28h3.81v4.41h-3.81zM421.3 75.28h7.61v4.41h-7.61zM451.75 75.28h3.81v4.41h-3.81zM508.84 75.28h3.81v4.41h-3.81zM573.55 75.28h3.81v4.41h-3.81zM592.58 75.28h3.81v4.41h-3.81zM215.77 79.69h3.81v4.41h-3.81zM345.18 79.69h3.81v4.41h-3.81zM421.3 79.69h3.81v4.41h-3.81zM489.81 79.69h7.61v4.41h-7.61zM508.84 79.69h3.81v4.41h-3.81zM592.58 79.69h11.42v4.41h-11.42zM109.19 88.51h3.81v4.41h-3.81zM512.65 88.51h3.81v4.41h-3.81zM71.13 92.92h19.03v4.41h-19.03zM116.81 92.92h3.81v4.41h-3.81zM208.15 92.92h3.81v4.41h-3.81zM242.41 92.92h7.61v4.41h-7.61zM337.57 92.92h3.81v4.41h-3.81zM364.21 92.92h3.81v4.41h-3.81zM371.82 92.92h7.61v4.41h-7.61zM406.08 92.92h3.81v4.41h-3.81zM413.69 92.92h11.42v4.41h-11.42zM444.14 92.92h3.81v4.41h-3.81zM466.98 92.92h3.81v4.41h-3.81zM470.78 97.33h3.81v4.41h-3.81zM474.59 114.97h3.81v4.41h-3.81zM501.23 114.97h7.61v4.41h-7.61zM584.97 114.97h3.81v4.41h-3.81zM501.23 119.38h7.61v4.41h-7.61zM584.97 119.38h3.81v4.41h-3.81zM470.78 145.84h3.81v4.41h-3.81zM482.2 145.84h11.42v4.41h-11.42zM470.78 150.25h3.81v4.41h-3.81zM486.01 150.25h3.81v4.41h-3.81zM588.78 170.82h3.81v4.41h-3.81z"/>
<path fill="#F6CECB" d="M493.62 44.41h19.03v4.41h-19.03zM516.46 44.41h3.81v4.41h-3.81zM524.07 44.41h19.03v4.41h-19.03zM546.91 44.41h15.22v4.41h-15.22zM573.55 44.41h7.61v4.41h-7.61zM584.97 44.41h3.81v4.41h-3.81zM600.19 44.41h3.81v4.41h-3.81zM493.62 53.23h19.03v4.41h-19.03zM516.46 53.23h3.81v4.41h-3.81zM524.07 53.23h41.87v4.41h-41.87zM584.97 53.23h3.81v4.41h-3.81zM493.62 57.64h11.42v4.41h-11.42zM512.65 57.64h3.81v4.41h-3.81zM520.26 57.64h26.64v4.41h-26.64zM550.71 57.64h15.22v4.41h-15.22zM584.97 57.64h3.81v4.41h-3.81zM493.62 92.92h11.42v4.41h-11.42zM508.84 92.92h11.42v4.41h-11.42zM531.68 92.92h7.61v4.41h-7.61zM543.1 92.92h11.42v4.41h-11.42zM558.33 92.92h3.81v4.41h-3.81zM569.74 92.92h3.81v4.41h-3.81zM493.62 123.79h7.61v4.41h-7.61zM505.04 123.79h11.42v4.41h-11.42zM520.26 123.79h7.61v4.41h-7.61zM535.49 123.79h49.48v4.41h-49.48zM592.58 123.79h3.81v4.41h-3.81zM600.19 123.79h3.81v4.41h-3.81zM493.62 145.84h7.61v4.41h-7.61zM508.84 145.84h22.84v4.41h-22.84zM535.49 145.84h68.51v4.41h-68.51z"/>
<path fill="#ECA4A3" d="M109.19 48.82h15.22v4.41h-15.22zM520.26 48.82h45.67v4.41h-45.67zM337.57 66.46h3.81v4.41h-3.81zM348.98 66.46h3.81v4.41h-3.81zM493.62 66.46h7.61v4.41h-7.61zM520.26 66.46h3.81v4.41h-3.81zM539.29 66.46h7.61v4.41h-7.61zM550.71 66.46h3.81v4.41h-3.81zM562.13 66.46h3.81v4.41h-3.81zM569.74 66.46h3.81v4.41h-3.81zM482.2 70.87h11.42v4.41h-11.42zM520.26 70.87h11.42v4.41h-11.42zM535.49 70.87h15.22v4.41h-15.22zM554.52 70.87h11.42v4.41h-11.42zM584.97 70.87h3.81v4.41h-3.81zM413.69 75.28h3.81v4.41h-3.81zM482.2 75.28h3.81v4.41h-3.81zM520.26 75.28h15.22v4.41h-15.22zM539.29 75.28h15.22v4.41h-15.22zM558.33 75.28h7.61v4.41h-7.61zM109.19 79.69h15.22v4.41h-15.22zM269.05 79.69h3.81v4.41h-3.81zM520.26 79.69h45.67v4.41h-45.67zM584.97 79.69h3.81v4.41h-3.81zM417.5 84.1h3.81v4.41h-3.81zM440.33 84.1h3.81v4.41h-3.81zM512.65 84.1h3.81v4.41h-3.81zM116.81 88.51h7.61v4.41h-7.61zM132.03 88.51h7.61v4.41h-7.61zM520.26 88.51h45.67v4.41h-45.67zM584.97 88.51h3.81v4.41h-3.81z"/>
<path fill="#CACAE7" d="M52.1 53.23h26.64v4.41h-26.64zM170.09 53.23h53.29v4.41h-53.29zM383.24 53.23h15.22v4.41h-15.22zM55.91 57.64h22.84v4.41h-22.84zM154.87 57.64h3.81v4.41h-3.81zM173.9 57.64h41.87v4.41h-41.87zM223.38 57.64h15.22v4.41h-15.22zM242.41 57.64h3.81v4.41h-3.81zM250.02 57.64h11.42v4.41h-11.42zM371.82 57.64h22.84v4.41h-22.84zM428.91 57.64h7.61v4.41h-7.61zM59.71 62.05h19.03v4.41h-19.03zM154.87 62.05h3.81v4.41h-3.81zM177.7 62.05h38.06v4.41h-38.06zM223.38 62.05h26.64v4.41h-26.64zM284.28 62.05h7.61v4.41h-7.61zM295.7 62.05h3.81v4.41h-3.81zM307.12 62.05h11.42v4.41h-11.42zM364.21 62.05h3.81v4.41h-3.81zM383.24 62.05h15.22v4.41h-15.22zM444.14 62.05h3.81v4.41h-3.81zM147.26 128.2h7.61v4.41h-7.61zM147.26 132.61h7.61v4.41h-7.61zM147.26 137.02h7.61v4.41h-7.61zM501.23 137.02h7.61v4.41h-7.61zM147.26 141.43h7.61v4.41h-7.61zM501.23 141.43h7.61v4.41h-7.61zM147.26 150.25h7.61v4.41h-7.61zM501.23 150.25h11.42v4.41h-11.42zM147.26 154.66h7.61v4.41h-7.61zM501.23 154.66h11.42v4.41h-11.42zM474.59 162h7.61v4.41h-7.61zM486.01 162h3.81v4.41h-3.81zM474.59 166.41h3.81v4.41h-3.81zM486.01 166.41h3.81v4.41h-3.81zM489.81 179.64h3.81v4.41h-3.81zM497.43 179.64h15.22v4.41h-15.22zM516.46 179.64h3.81v4.41h-3.81zM531.68 179.64h7.61v4.41h-7.61zM543.1 179.64h22.84v4.41h-22.84zM573.55 179.64h7.61v4.41h-7.61zM584.97 179.64h7.61v4.41h-7.61zM600.19 179.64h3.81v4.41h-3.81zM493.62 184.05h22.84v4.41h-22.84zM520.26 184.05h45.67v4.41h-45.67zM573.55 184.05h7.61v4.41h-7.61zM584.97 184.05h7.61v4.41h-7.61zM596.39 184.05h7.61v4.41h-7.61zM493.62 188.46h72.32v4.41h-72.32zM573.55 188.46h7.61v4.41h-7.61zM584.97 188.46h7.61v4.41h-7.61zM600.19 188.46h3.81v4.41h-3.81z"/>
<path fill="#B7B7DE" d="M291.89 57.64h3.81v4.41h-3.81zM299.5 57.64h3.81v4.41h-3.81zM113 97.33h3.81v4.41h-3.81zM158.67 97.33h3.81v4.41h-3.81zM170.09 97.33h3.81v4.41h-3.81zM189.12 97.33h3.81v4.41h-3.81zM196.74 97.33h3.81v4.41h-3.81zM253.83 97.33h3.81v4.41h-3.81zM261.44 97.33h15.22v4.41h-15.22zM326.15 97.33h3.81v4.41h-3.81zM379.43 97.33h3.81v4.41h-3.81zM459.36 97.33h3.81v4.41h-3.81zM67.32 101.74h3.81v4.41h-3.81zM109.19 101.74h19.03v4.41h-19.03zM139.64 101.74h7.61v4.41h-7.61zM154.87 101.74h3.81v4.41h-3.81zM170.09 101.74h7.61v4.41h-7.61zM192.93 101.74h15.22v4.41h-15.22zM215.77 101.74h3.81v4.41h-3.81zM223.38 101.74h3.81v4.41h-3.81zM230.99 101.74h11.42v4.41h-11.42zM276.67 101.74h3.81v4.41h-3.81zM329.95 101.74h3.81v4.41h-3.81zM390.85 101.74h7.61v4.41h-7.61zM466.98 101.74h3.81v4.41h-3.81zM501.23 101.74h3.81v4.41h-3.81zM527.88 101.74h7.61v4.41h-7.61zM109.19 106.15h7.61v4.41h-7.61zM120.61 106.15h3.81v4.41h-3.81zM139.64 106.15h7.61v4.41h-7.61zM170.09 106.15h7.61v4.41h-7.61zM189.12 106.15h15.22v4.41h-15.22zM215.77 106.15h7.61v4.41h-7.61zM230.99 106.15h11.42v4.41h-11.42zM246.22 106.15h11.42v4.41h-11.42zM276.67 106.15h7.61v4.41h-7.61zM307.12 106.15h3.81v4.41h-3.81zM314.73 106.15h11.42v4.41h-11.42zM390.85 106.15h7.61v4.41h-7.61zM425.11 106.15h3.81v4.41h-3.81zM466.98 106.15h3.81v4.41h-3.81zM505.04 106.15h3.81v4.41h-3.81zM531.68 106.15h3.81v4.41h-3.81zM588.78 106.15h3.81v4.41h-3.81zM166.29 119.38h3.81v4.41h-3.81zM291.89 123.79h3.81v4.41h-3.81zM59.71 128.2h3.81v4.41h-3.81zM71.13 128.2h3.81v4.41h-3.81zM86.36 128.2h3.81v4.41h-3.81zM143.45 128.2h3.81v4.41h-3.81zM154.87 128.2h3.81v4.41h-3.81zM173.9 128.2h3.81v4.41h-3.81zM181.51 128.2h30.45v4.41h-30.45zM215.77 128.2h22.84v4.41h-22.84zM253.83 128.2h3.81v4.41h-3.81zM261.44 128.2h11.42v4.41h-11.42zM394.66 128.2h3.81v4.41h-3.81zM466.98 128.2h3.81v4.41h-3.81zM501.23 128.2h3.81v4.41h-3.81zM59.71 132.61h7.61v4.41h-7.61zM71.13 132.61h3.81v4.41h-3.81zM78.74 132.61h3.81v4.41h-3.81zM86.36 132.61h3.81v4.41h-3.81zM113 132.61h3.81v4.41h-3.81zM120.61 132.61h7.61v4.41h-7.61zM154.87 132.61h3.81v4.41h-3.81zM170.09 132.61h15.22v4.41h-15.22zM189.12 132.61h19.03v4.41h-19.03zM215.77 132.61h7.61v4.41h-7.61zM257.64 132.61h3.81v4.41h-3.81zM265.25 132.61h15.22v4.41h-15.22zM326.15 132.61h3.81v4.41h-3.81zM341.37 132.61h3.81v4.41h-3.81zM394.66 132.61h3.81v4.41h-3.81zM406.08 132.61h3.81v4.41h-3.81zM413.69 132.61h3.81v4.41h-3.81zM466.98 132.61h3.81v4.41h-3.81zM52.1 137.02h3.81v4.41h-3.81zM59.71 137.02h3.81v4.41h-3.81zM78.74 137.02h3.81v4.41h-3.81zM97.77 137.02h3.81v4.41h-3.81zM109.19 137.02h7.61v4.41h-7.61zM120.61 137.02h11.42v4.41h-11.42zM139.64 137.02h3.81v4.41h-3.81zM154.87 137.02h3.81v4.41h-3.81zM173.9 137.02h11.42v4.41h-11.42zM189.12 137.02h7.61v4.41h-7.61zM200.54 137.02h3.81v4.41h-3.81zM208.15 137.02h15.22v4.41h-15.22zM227.19 137.02h3.81v4.41h-3.81zM234.8 137.02h7.61v4.41h-7.61zM246.22 137.02h19.03v4.41h-19.03zM269.05 137.02h15.22v4.41h-15.22zM322.34 137.02h3.81v4.41h-3.81zM394.66 137.02h3.81v4.41h-3.81zM459.36 137.02h7.61v4.41h-7.61zM592.58 137.02h3.81v4.41h-3.81zM52.1 141.43h3.81v4.41h-3.81zM59.71 141.43h15.22v4.41h-15.22zM86.36 141.43h3.81v4.41h-3.81zM120.61 141.43h7.61v4.41h-7.61zM143.45 141.43h3.81v4.41h-3.81zM154.87 141.43h3.81v4.41h-3.81zM170.09 141.43h38.06v4.41h-38.06zM215.77 141.43h7.61v4.41h-7.61zM227.19 141.43h3.81v4.41h-3.81zM234.8 141.43h7.61v4.41h-7.61zM246.22 141.43h38.06v4.41h-38.06zM288.08 141.43h3.81v4.41h-3.81zM371.82 141.43h3.81v4.41h-3.81zM379.43 141.43h3.81v4.41h-3.81zM569.74 141.43h3.81v4.41h-3.81zM284.28 145.84h3.81v4.41h-3.81zM295.7 145.84h7.61v4.41h-7.61zM314.73 145.84h3.81v4.41h-3.81zM59.71 150.25h3.81v4.41h-3.81zM67.32 150.25h3.81v4.41h-3.81zM78.74 150.25h7.61v4.41h-7.61zM90.16 150.25h3.81v4.41h-3.81zM97.77 150.25h3.81v4.41h-3.81zM109.19 150.25h3.81v4.41h-3.81zM120.61 150.25h15.22v4.41h-15.22zM143.45 150.25h3.81v4.41h-3.81zM170.09 150.25h11.42v4.41h-11.42zM185.32 150.25h38.06v4.41h-38.06zM238.6 150.25h3.81v4.41h-3.81zM253.83 150.25h7.61v4.41h-7.61zM265.25 150.25h19.03v4.41h-19.03zM307.12 150.25h3.81v4.41h-3.81zM371.82 150.25h3.81v4.41h-3.81zM394.66 150.25h3.81v4.41h-3.81zM402.27 150.25h3.81v4.41h-3.81zM55.91 154.66h7.61v4.41h-7.61zM71.13 154.66h3.81v4.41h-3.81zM101.58 154.66h3.81v4.41h-3.81zM109.19 154.66h3.81v4.41h-3.81zM116.81 154.66h3.81v4.41h-3.81zM124.42 154.66h3.81v4.41h-3.81zM139.64 154.66h3.81v4.41h-3.81zM154.87 154.66h3.81v4.41h-3.81zM170.09 154.66h45.67v4.41h-45.67zM219.57 154.66h11.42v4.41h-11.42zM234.8 154.66h7.61v4.41h-7.61zM253.83 154.66h3.81v4.41h-3.81zM261.44 154.66h30.45v4.41h-30.45zM307.12 154.66h3.81v4.41h-3.81zM314.73 154.66h3.81v4.41h-3.81zM379.43 154.66h3.81v4.41h-3.81zM394.66 154.66h3.81v4.41h-3.81zM402.27 154.66h3.81v4.41h-3.81zM463.17 154.66h3.81v4.41h-3.81zM116.81 162h19.03v4.41h-19.03zM482.2 162h3.81v4.41h-3.81zM489.81 162h15.22v4.41h-15.22zM512.65 162h3.81v4.41h-3.81zM577.36 162h3.81v4.41h-3.81zM584.97 162h7.61v4.41h-7.61zM113 166.41h11.42v4.41h-11.42zM478.4 166.41h7.61v4.41h-7.61zM489.81 166.41h15.22v4.41h-15.22zM512.65 166.41h3.81v4.41h-3.81zM584.97 166.41h7.61v4.41h-7.61zM474.59 170.82h3.81v4.41h-3.81zM486.01 170.82h3.81v4.41h-3.81zM101.58 179.64h3.81v4.41h-3.81zM109.19 179.64h30.45v4.41h-30.45zM326.15 179.64h3.81v4.41h-3.81zM78.74 184.05h3.81v4.41h-3.81zM109.19 184.05h30.45v4.41h-30.45zM269.05 184.05h7.61v4.41h-7.61zM326.15 184.05h3.81v4.41h-3.81zM466.98 184.05h3.81v4.41h-3.81zM86.36 188.46h3.81v4.41h-3.81zM93.97 188.46h3.81v4.41h-3.81zM101.58 188.46h3.81v4.41h-3.81zM109.19 188.46h30.45v4.41h-30.45zM143.45 188.46h3.81v4.41h-3.81zM170.09 188.46h3.81v4.41h-3.81zM269.05 188.46h11.42v4.41h-11.42zM322.34 188.46h3.81v4.41h-3.81zM368.02 188.46h3.81v4.41h-3.81zM417.5 188.46h3.81v4.41h-3.81z"/>
<path fill="#E79092" d="M524.07 84.1h41.87v4.41h-41.87z"/>
<path fill="#8F8FCC" d="M67.32 97.33h3.81v4.41h-3.81zM74.94 97.33h3.81v4.41h-3.81zM139.64 97.33h3.81v4.41h-3.81zM177.7 97.33h3.81v4.41h-3.81zM307.12 97.33h3.81v4.41h-3.81zM383.24 97.33h3.81v4.41h-3.81zM166.29 110.56h3.81v4.41h-3.81zM147.26 119.38h7.61v4.41h-7.61zM158.67 119.38h7.61v4.41h-7.61zM307.12 128.2h3.81v4.41h-3.81zM246.22 154.66h3.81v4.41h-3.81zM109.19 162h3.81v4.41h-3.81zM135.84 162h3.81v4.41h-3.81zM109.19 166.41h3.81v4.41h-3.81zM135.84 166.41h3.81v4.41h-3.81zM109.19 170.82h3.81v4.41h-3.81zM120.61 170.82h3.81v4.41h-3.81zM135.84 170.82h3.81v4.41h-3.81zM501.23 170.82h3.81v4.41h-3.81zM520.26 170.82h45.67v4.41h-45.67zM584.97 170.82h3.81v4.41h-3.81zM120.61 175.23h3.81v4.41h-3.81zM135.84 175.23h3.81v4.41h-3.81zM474.59 175.23h7.61v4.41h-7.61zM486.01 175.23h15.22v4.41h-15.22zM520.26 175.23h22.84v4.41h-22.84zM546.91 175.23h19.03v4.41h-19.03zM584.97 175.23h3.81v4.41h-3.81zM345.18 179.64h3.81v4.41h-3.81zM455.56 179.64h3.81v4.41h-3.81zM466.98 179.64h3.81v4.41h-3.81zM215.77 184.05h3.81v4.41h-3.81z"/>
<path fill="#EFE6EF" d="M170.09 110.56h19.03v4.41h-19.03zM192.93 110.56h72.32v4.41h-72.32zM269.05 110.56h125.6v4.41h-125.6zM398.46 110.56h72.32v4.41h-72.32zM170.09 114.97h140.83v4.41h-140.83zM318.53 114.97h76.12v4.41h-76.12zM398.46 114.97h7.61v4.41h-7.61zM428.91 114.97h41.87v4.41h-41.87zM170.09 119.38h19.03v4.41h-19.03zM192.93 119.38h117.99v4.41h-117.99zM318.53 119.38h64.71v4.41h-64.71zM387.05 119.38h3.81v4.41h-3.81zM398.46 119.38h7.61v4.41h-7.61zM428.91 119.38h41.87v4.41h-41.87z"/>
<path fill="#A4A4D6" d="M520.26 162h45.67v4.41h-45.67zM520.26 166.41h45.67v4.41h-45.67z"/>
</g>
<rect x="41.9" y="40" width="8.1" height="119.1" fill="#CA0020"/>
<rect x="41.9" y="162" width="8.1" height="30.9" fill="#0571B0"/>
<text font-size="8" font-weight="bold" transform="translate(49,222.7) rotate(-90)">change</text>
<text x="606.5" y="7.38" font-size="8" font-weight="bold">Age</text>
<text x="606.5" y="17.48" font-size="8" font-weight="bold">Gender</text>
<text x="606.5" y="27.08" font-size="8" font-weight="bold">Stage</text>
<text x="606.5" y="36.48" font-size="8" font-weight="bold">Group</text>
<path d="M25.3 51.02L41.5 51.02M25.3 55.44L41.5 55.44M25.3 51.02L25.3 55.44M26.6 59.84L41.5 59.84M26.6 64.25L41.5 64.25M26.6 59.84L26.6 64.25M28.3 73.08L41.5 73.08M28.3 77.48L41.5 77.48M28.3 73.08L28.3 77.48M31.3 86.3L41.5 86.3M31.3 90.72L41.5 90.72M31.3 86.3L31.3 90.72M28.5 81.89L41.5 81.89M28.5 88.51L31.3 88.51M28.5 81.89L28.5 88.51M27.3 75.28L28.3 75.28M27.3 85.2L28.5 85.2M27.3 75.28L27.3 85.2M26.2 68.67L41.5 68.67M26.2 80.24L27.3 80.24M26.2 68.67L26.2 80.24M24.8 62.05L26.6 62.05M24.8 74.45L26.2 74.45M24.8 62.05L24.8 74.45M24 53.23L25.3 53.23M24 68.25L24.8 68.25M24 53.23L24 68.25M23.5 46.61L41.5 46.61M23.5 60.74L24 60.74M23.5 46.61L23.5 60.74M22.3 42.2L41.5 42.2M22.3 53.68L23.5 53.68M22.3 42.2L22.3 53.68M26.3 103.95L41.5 103.95M26.3 108.36L41.5 108.36M26.3 103.95L26.3 108.36M24.5 99.53L41.5 99.53M24.5 106.15L26.3 106.15M24.5 99.53L24.5 106.15M23.3 95.12L41.5 95.12M23.3 102.84L24.5 102.84M23.3 95.12L23.3 102.84M31.5 117.17L41.5 117.17M31.5 121.58L41.5 121.58M31.5 117.17L31.5 121.58M30.5 112.77L41.5 112.77M30.5 119.38L31.5 119.38M30.5 112.77L30.5 119.38M27.3 130.41L41.5 130.41M27.3 134.82L41.5 134.82M27.3 130.41L27.3 134.82M26.3 126L41.5 126M26.3 132.61L27.3 132.61M26.3 126L26.3 132.61M27.5 143.64L41.5 143.64M27.5 148.05L41.5 148.05M27.5 143.64L27.5 148.05M26.3 139.23L41.5 139.23M26.3 145.84L27.5 145.84M26.3 139.23L26.3 145.84M25.7 152.46L41.5 152.46M25.7 156.87L41.5 156.87M25.7 152.46L25.7 156.87M24.8 142.53L26.3 142.53M24.8 154.66L25.7 154.66M24.8 142.53L24.8 154.66M24 129.3L26.3 129.3M24 148.6L24.8 148.6M24 129.3L24 148.6M21.8 116.07L30.5 116.07M21.8 138.95L24 138.95M21.8 116.07L21.8 138.95M21.3 98.98L23.3 98.98M21.3 127.51L21.8 127.51M21.3 98.98L21.3 127.51M20.4 47.94L22.3 47.94M20.4 113.25L21.3 113.25M20.4 47.94L20.4 113.25M33.2 164.21L41.5 164.21M33.2 168.62L41.5 168.62M33.2 164.21L33.2 168.62M30.7 173.03L41.5 173.03M30.7 177.44L41.5 177.44M30.7 173.03L30.7 177.44M28.8 166.41L33.2 166.41M28.8 175.23L30.7 175.23M28.8 166.41L28.8 175.23M29.4 186.26L41.5 186.26M29.4 190.67L41.5 190.67M29.4 186.26L29.4 190.67M26.9 181.84L41.5 181.84M26.9 188.46L29.4 188.46M26.9 181.84L26.9 188.46M23.2 170.82L28.8 170.82M23.2 185.15L26.9 185.15M23.2 170.82L23.2 185.15M1.5 80.59L20.4 80.59M1.5 177.99L23.2 177.99M1.5 80.59L1.5 177.99" fill="none" stroke="#1a1a1a" stroke-width="0.7"/>
<line x1="19.4" y1="66" x2="19.4" y2="188" stroke="#999" stroke-width="0.5" stroke-dasharray="0.6 1.6"/>
<text x="608.8" y="42.48" font-size="8" font-weight="bold">change</text>
<rect x="608.8" y="47.3" width="8.3" height="8.2" fill="#CA0020"/>
<text x="620" y="54.38" font-size="8">Hyper</text>
<rect x="608.8" y="56.4" width="8.3" height="8.2" fill="#0571B0"/>
<text x="620" y="63.48" font-size="8">Hypo</text>
<text x="646" y="21.48" font-size="8" font-weight="bold">Age</text>
<rect x="646" y="26.3" width="8.7" height="8.3" fill="#984EA3"/>
<text x="657.6" y="33.48" font-size="8">&lt;52</text>
<rect x="646" y="35.4" width="8.7" height="8.3" fill="#4DAF4A"/>
<text x="657.6" y="42.68" font-size="8">&gt;=52</text>
<text x="646" y="59.38" font-size="8" font-weight="bold">Gender</text>
<rect x="646" y="64.2" width="8.7" height="8.2" fill="#FB9A99"/>
<text x="657.6" y="71.08" font-size="8">F</text>
<rect x="646" y="73.2" width="8.7" height="8.2" fill="#A65628"/>
<text x="657.6" y="80.18" font-size="8">M</text>
<text x="608.7" y="94.3" font-size="8" font-weight="bold">Methylation</text>
<text x="608.7" y="104" font-size="8" font-weight="bold">level</text>
<defs><linearGradient id="hmg" x1="0" y1="0" x2="0" y2="1"><stop offset="0" stop-color="#DD565B"/><stop offset="0.035" stop-color="#DE5A5E"/><stop offset="0.27" stop-color="#EEACAD"/><stop offset="0.506" stop-color="#F4EEF3"/><stop offset="0.73" stop-color="#9C9CD0"/><stop offset="0.96" stop-color="#33339F"/><stop offset="1" stop-color="#2F2F9C"/></linearGradient></defs>
<rect x="608.2" y="109.9" width="9.7" height="48.3" fill="url(#hmg)"/>
<line x1="608.2" y1="111.5" x2="610.1" y2="111.5" stroke="#fff" stroke-width="0.6"/>
<line x1="616" y1="111.5" x2="617.9" y2="111.5" stroke="#fff" stroke-width="0.6"/>
<text x="620" y="114.78" font-size="8">4</text>
<line x1="608.2" y1="122.9" x2="610.1" y2="122.9" stroke="#fff" stroke-width="0.6"/>
<line x1="616" y1="122.9" x2="617.9" y2="122.9" stroke="#fff" stroke-width="0.6"/>
<text x="620" y="126.18" font-size="8">2</text>
<line x1="608.2" y1="134.2" x2="610.1" y2="134.2" stroke="#fff" stroke-width="0.6"/>
<line x1="616" y1="134.2" x2="617.9" y2="134.2" stroke="#fff" stroke-width="0.6"/>
<text x="620" y="137.48" font-size="8">0</text>
<line x1="608.2" y1="145.4" x2="610.1" y2="145.4" stroke="#fff" stroke-width="0.6"/>
<line x1="616" y1="145.4" x2="617.9" y2="145.4" stroke="#fff" stroke-width="0.6"/>
<text x="620" y="148.68" font-size="8">−2</text>
<line x1="608.2" y1="156.6" x2="610.1" y2="156.6" stroke="#fff" stroke-width="0.6"/>
<line x1="616" y1="156.6" x2="617.9" y2="156.6" stroke="#fff" stroke-width="0.6"/>
<text x="620" y="159.88" font-size="8">−4</text>
<text x="646" y="117.68" font-size="8" font-weight="bold">Stage</text>
<rect x="646" y="122.5" width="8.7" height="8.3" fill="#0571B0"/>
<text x="657.8" y="129.68" font-size="8">Normal</text>
<rect x="646" y="131.6" width="8.7" height="8.3" fill="#C7EAE5"/>
<text x="657.8" y="138.78" font-size="8">StageI</text>
<rect x="646" y="140.7" width="8.7" height="8.3" fill="#01665E"/>
<text x="657.8" y="147.88" font-size="8">StageII</text>
<rect x="646" y="149.8" width="8.7" height="8.3" fill="#003C30"/>
<text x="657.8" y="156.98" font-size="8">StageIII</text>
<text x="646" y="173.38" font-size="8" font-weight="bold">Group</text>
<rect x="646" y="178.2" width="8.7" height="8.3" fill="#0571B0"/>
<text x="657.8" y="185.28" font-size="8">Normal</text>
<rect x="646" y="187.3" width="8.7" height="8.3" fill="#CA0020"/>
<text x="657.8" y="194.48" font-size="8">Tumor</text>
<text x="0.6" y="8.5" font-size="11.6" font-weight="bold">A</text>
<text x="0.3" y="239.4" font-size="11.6" font-weight="bold">B</text>
<text x="346.9" y="239.4" font-size="11.6" font-weight="bold">C</text>
<text x="0.3" y="470.4" font-size="11.6" font-weight="bold">D</text>
<text x="346.4" y="470.4" font-size="11.6" font-weight="bold">E</text>
<text x="27.4" y="252.1" font-size="8.9">p = 7.65e−03</text>
<rect x="42.65" y="266" width="91.51" height="5.47" fill="#E64B35"/>
<rect x="42.65" y="271.47" width="91.51" height="114.92" fill="#4DBBD5"/>
<text x="88.41" y="331.99" font-size="8.5" text-anchor="middle">77.78 %</text>
<rect x="42.65" y="386.39" width="91.51" height="21.88" fill="#3C5488"/>
<text x="88.41" y="400.39" font-size="8.5" text-anchor="middle">14.81 %</text>
<rect x="42.65" y="408.27" width="91.51" height="5.48" fill="#F39B7F"/>
<line x1="88.41" y1="421.1" x2="88.41" y2="423.6" stroke="#333" stroke-width="0.8"/>
<text font-size="8" text-anchor="end" fill="#4D4D4D" transform="translate(100.31,431) rotate(-45) scale(0.95,1)">Hyper</text>
<rect x="144.33" y="266" width="91.51" height="21.11" fill="#E64B35"/>
<text x="190.09" y="279.62" font-size="8.5" text-anchor="middle">14.29 %</text>
<rect x="144.33" y="287.11" width="91.51" height="21.11" fill="#4DBBD5"/>
<text x="190.09" y="300.73" font-size="8.5" text-anchor="middle">14.29 %</text>
<rect x="144.33" y="308.23" width="91.51" height="42.21" fill="#00A087"/>
<text x="190.09" y="332.39" font-size="8.5" text-anchor="middle">28.57 %</text>
<rect x="144.33" y="350.44" width="91.51" height="42.21" fill="#3C5488"/>
<text x="190.09" y="374.61" font-size="8.5" text-anchor="middle">28.57 %</text>
<rect x="144.33" y="392.65" width="91.51" height="21.1" fill="#F39B7F"/>
<text x="190.09" y="406.26" font-size="8.5" text-anchor="middle">14.29 %</text>
<line x1="190.09" y1="421.1" x2="190.09" y2="423.6" stroke="#333" stroke-width="0.8"/>
<text font-size="8" text-anchor="end" fill="#4D4D4D" transform="translate(200.99,432.4) rotate(-45) scale(0.95,1)">Hypo</text>
<line x1="27.4" y1="258.6" x2="27.4" y2="421.5" stroke="#000" stroke-width="0.8"/>
<line x1="27" y1="421.1" x2="251.1" y2="421.1" stroke="#000" stroke-width="0.8"/>
<line x1="24.8" y1="413.75" x2="27.4" y2="413.75" stroke="#333" stroke-width="0.8"/>
<text font-size="8" text-anchor="end" fill="#4D4D4D" transform="translate(23.4,416.33) scale(0.89,1)">0</text>
<line x1="24.8" y1="376.81" x2="27.4" y2="376.81" stroke="#333" stroke-width="0.8"/>
<text font-size="8" text-anchor="end" fill="#4D4D4D" transform="translate(23.4,379.39) scale(0.89,1)">25</text>
<line x1="24.8" y1="339.88" x2="27.4" y2="339.88" stroke="#333" stroke-width="0.8"/>
<text font-size="8" text-anchor="end" fill="#4D4D4D" transform="translate(23.4,342.45) scale(0.89,1)">50</text>
<line x1="24.8" y1="302.94" x2="27.4" y2="302.94" stroke="#333" stroke-width="0.8"/>
<text font-size="8" text-anchor="end" fill="#4D4D4D" transform="translate(23.4,305.52) scale(0.89,1)">75</text>
<line x1="24.8" y1="266" x2="27.4" y2="266" stroke="#333" stroke-width="0.8"/>
<text font-size="8" text-anchor="end" fill="#4D4D4D" transform="translate(23.4,268.58) scale(0.89,1)">100</text>
<text font-size="8.9" text-anchor="middle" transform="translate(7.7,339.85) rotate(-90)">Frenquency</text>
<rect x="264.7" y="305.8" width="12.7" height="12.6" fill="#E64B35"/>
<text x="282.1" y="315.05" font-size="7.35">3' UTR</text>
<rect x="264.7" y="319.6" width="12.7" height="12.6" fill="#4DBBD5"/>
<text x="282.1" y="328.85" font-size="7.35">Distal Intergenic</text>
<rect x="264.7" y="333.4" width="12.7" height="12.6" fill="#00A087"/>
<text x="282.1" y="342.65" font-size="7.35">Exon</text>
<rect x="264.7" y="347.2" width="12.7" height="12.6" fill="#3C5488"/>
<text x="282.1" y="356.45" font-size="7.35">Intron</text>
<rect x="264.7" y="361" width="12.7" height="12.6" fill="#F39B7F"/>
<text x="282.1" y="370.25" font-size="7.35">Promoter</text>
<text x="373.8" y="252.1" font-size="8.9">p = 4.96e−06</text>
<rect x="388.49" y="266" width="88.12" height="110.81" fill="#E64B35"/>
<text x="432.55" y="324.47" font-size="8.5" text-anchor="middle">75 %</text>
<rect x="388.49" y="376.81" width="88.12" height="21.11" fill="#00A087"/>
<text x="432.55" y="390.43" font-size="8.5" text-anchor="middle">14.29 %</text>
<rect x="388.49" y="397.93" width="88.12" height="15.82" fill="#3C5488"/>
<text x="432.55" y="408.9" font-size="8.5" text-anchor="middle">10.71 %</text>
<line x1="432.55" y1="421.1" x2="432.55" y2="423.6" stroke="#333" stroke-width="0.8"/>
<text font-size="8" text-anchor="end" fill="#4D4D4D" transform="translate(444.45,431) rotate(-45) scale(0.95,1)">Hyper</text>
<rect x="486.4" y="266" width="88.12" height="11.36" fill="#E64B35"/>
<text x="530.45" y="274.74" font-size="8.5" text-anchor="middle">7.69 %</text>
<rect x="486.4" y="277.36" width="88.12" height="68.19" fill="#4DBBD5"/>
<text x="530.45" y="314.52" font-size="8.5" text-anchor="middle">46.15 %</text>
<rect x="486.4" y="345.55" width="88.12" height="68.2" fill="#3C5488"/>
<text x="530.45" y="382.71" font-size="8.5" text-anchor="middle">46.15 %</text>
<line x1="530.45" y1="421.1" x2="530.45" y2="423.6" stroke="#333" stroke-width="0.8"/>
<text font-size="8" text-anchor="end" fill="#4D4D4D" transform="translate(541.35,432.4) rotate(-45) scale(0.95,1)">Hypo</text>
<line x1="373.8" y1="258.6" x2="373.8" y2="421.5" stroke="#000" stroke-width="0.8"/>
<line x1="373.4" y1="421.1" x2="589.2" y2="421.1" stroke="#000" stroke-width="0.8"/>
<line x1="371.2" y1="413.75" x2="373.8" y2="413.75" stroke="#333" stroke-width="0.8"/>
<text font-size="8" text-anchor="end" fill="#4D4D4D" transform="translate(369.8,416.33) scale(0.89,1)">0</text>
<line x1="371.2" y1="376.81" x2="373.8" y2="376.81" stroke="#333" stroke-width="0.8"/>
<text font-size="8" text-anchor="end" fill="#4D4D4D" transform="translate(369.8,379.39) scale(0.89,1)">25</text>
<line x1="371.2" y1="339.88" x2="373.8" y2="339.88" stroke="#333" stroke-width="0.8"/>
<text font-size="8" text-anchor="end" fill="#4D4D4D" transform="translate(369.8,342.45) scale(0.89,1)">50</text>
<line x1="371.2" y1="302.94" x2="373.8" y2="302.94" stroke="#333" stroke-width="0.8"/>
<text font-size="8" text-anchor="end" fill="#4D4D4D" transform="translate(369.8,305.52) scale(0.89,1)">75</text>
<line x1="371.2" y1="266" x2="373.8" y2="266" stroke="#333" stroke-width="0.8"/>
<text font-size="8" text-anchor="end" fill="#4D4D4D" transform="translate(369.8,268.58) scale(0.89,1)">100</text>
<text font-size="8.9" text-anchor="middle" transform="translate(354.3,339.85) rotate(-90)">Frenquency</text>
<rect x="603.1" y="312.9" width="12.7" height="12.6" fill="#E64B35"/>
<text x="620.5" y="322.15" font-size="7.35">hg19_cpg_inter</text>
<rect x="603.1" y="326.7" width="12.7" height="12.6" fill="#4DBBD5"/>
<text x="620.5" y="335.95" font-size="7.35">hg19_cpg_islands</text>
<rect x="603.1" y="340.5" width="12.7" height="12.6" fill="#00A087"/>
<text x="620.5" y="349.75" font-size="7.35">hg19_cpg_shelves</text>
<rect x="603.1" y="354.3" width="12.7" height="12.6" fill="#3C5488"/>
<text x="620.5" y="363.55" font-size="7.35">hg19_cpg_shores</text>
<rect x="134.3" y="477.1" width="140.3" height="96.1" fill="#fff"/>
<line x1="163.85" y1="477.1" x2="163.85" y2="573.2" stroke="#EFEFEF" stroke-width="0.45"/>
<line x1="193.75" y1="477.1" x2="193.75" y2="573.2" stroke="#EFEFEF" stroke-width="0.45"/>
<line x1="223.65" y1="477.1" x2="223.65" y2="573.2" stroke="#EFEFEF" stroke-width="0.45"/>
<line x1="253.55" y1="477.1" x2="253.55" y2="573.2" stroke="#EFEFEF" stroke-width="0.45"/>
<line x1="148.9" y1="477.1" x2="148.9" y2="573.2" stroke="#E5E5E5" stroke-width="0.75"/>
<line x1="178.8" y1="477.1" x2="178.8" y2="573.2" stroke="#E5E5E5" stroke-width="0.75"/>
<line x1="208.7" y1="477.1" x2="208.7" y2="573.2" stroke="#E5E5E5" stroke-width="0.75"/>
<line x1="238.6" y1="477.1" x2="238.6" y2="573.2" stroke="#E5E5E5" stroke-width="0.75"/>
<line x1="268.5" y1="477.1" x2="268.5" y2="573.2" stroke="#E5E5E5" stroke-width="0.75"/>
<line x1="134.3" y1="488.19" x2="274.6" y2="488.19" stroke="#E5E5E5" stroke-width="0.75"/>
<line x1="134.3" y1="506.67" x2="274.6" y2="506.67" stroke="#E5E5E5" stroke-width="0.75"/>
<line x1="134.3" y1="525.15" x2="274.6" y2="525.15" stroke="#E5E5E5" stroke-width="0.75"/>
<line x1="134.3" y1="543.63" x2="274.6" y2="543.63" stroke="#E5E5E5" stroke-width="0.75"/>
<line x1="134.3" y1="562.11" x2="274.6" y2="562.11" stroke="#E5E5E5" stroke-width="0.75"/>
<circle cx="268.5" cy="488.19" r="6" fill="#E06663" stroke="#000" stroke-width="0.7"/>
<circle cx="268.5" cy="506.67" r="6" fill="#E06663" stroke="#000" stroke-width="0.7"/>
<circle cx="268.5" cy="525.15" r="6" fill="#E06663" stroke="#000" stroke-width="0.7"/>
<circle cx="268.5" cy="543.63" r="6" fill="#E06663" stroke="#000" stroke-width="0.7"/>
<circle cx="268.5" cy="562.11" r="6" fill="#E06663" stroke="#000" stroke-width="0.7"/>
<rect x="134.3" y="477.1" width="140.3" height="96.1" fill="none" stroke="#333" stroke-width="0.6"/>
<rect x="274.6" y="477.1" width="14.3" height="96.1" fill="#D9D9D9" stroke="#333" stroke-width="0.6"/>
<text font-size="6.6" text-anchor="middle" fill="#1A1A1A" transform="translate(279.45,525.15) rotate(90)">BP</text>
<line x1="131.6" y1="488.19" x2="134.3" y2="488.19" stroke="#333" stroke-width="0.85"/>
<text font-size="9.8" text-anchor="end" transform="translate(130,491.52) scale(0.98,1)">bleb assembly</text>
<line x1="131.6" y1="506.67" x2="134.3" y2="506.67" stroke="#333" stroke-width="0.85"/>
<text font-size="9.8" text-anchor="end" transform="translate(130,504.7) scale(0.98,1)">negative regulation of motor</text>
<text font-size="9.8" text-anchor="end" transform="translate(130,515.35) scale(0.98,1)">neuron apoptotic process</text>
<line x1="131.6" y1="525.15" x2="134.3" y2="525.15" stroke="#333" stroke-width="0.85"/>
<text font-size="9.8" text-anchor="end" transform="translate(130,523.18) scale(0.98,1)">positive regulation of</text>
<text font-size="9.8" text-anchor="end" transform="translate(130,533.83) scale(0.98,1)">connective tissue replacement</text>
<line x1="131.6" y1="543.63" x2="134.3" y2="543.63" stroke="#333" stroke-width="0.85"/>
<text font-size="9.8" text-anchor="end" transform="translate(130,546.96) scale(0.98,1)">myoblast migration</text>
<line x1="131.6" y1="562.11" x2="134.3" y2="562.11" stroke="#333" stroke-width="0.85"/>
<text font-size="9.8" text-anchor="end" transform="translate(130,560.14) scale(0.98,1)">regulation of connective</text>
<text font-size="9.8" text-anchor="end" transform="translate(130,570.79) scale(0.98,1)">tissue replacement</text>
<rect x="134.3" y="578.1" width="140.3" height="96.2" fill="#fff"/>
<line x1="163.85" y1="578.1" x2="163.85" y2="674.3" stroke="#EFEFEF" stroke-width="0.45"/>
<line x1="193.75" y1="578.1" x2="193.75" y2="674.3" stroke="#EFEFEF" stroke-width="0.45"/>
<line x1="223.65" y1="578.1" x2="223.65" y2="674.3" stroke="#EFEFEF" stroke-width="0.45"/>
<line x1="253.55" y1="578.1" x2="253.55" y2="674.3" stroke="#EFEFEF" stroke-width="0.45"/>
<line x1="148.9" y1="578.1" x2="148.9" y2="674.3" stroke="#E5E5E5" stroke-width="0.75"/>
<line x1="178.8" y1="578.1" x2="178.8" y2="674.3" stroke="#E5E5E5" stroke-width="0.75"/>
<line x1="208.7" y1="578.1" x2="208.7" y2="674.3" stroke="#E5E5E5" stroke-width="0.75"/>
<line x1="238.6" y1="578.1" x2="238.6" y2="674.3" stroke="#E5E5E5" stroke-width="0.75"/>
<line x1="268.5" y1="578.1" x2="268.5" y2="674.3" stroke="#E5E5E5" stroke-width="0.75"/>
<line x1="134.3" y1="589.2" x2="274.6" y2="589.2" stroke="#E5E5E5" stroke-width="0.75"/>
<line x1="134.3" y1="607.7" x2="274.6" y2="607.7" stroke="#E5E5E5" stroke-width="0.75"/>
<line x1="134.3" y1="626.2" x2="274.6" y2="626.2" stroke="#E5E5E5" stroke-width="0.75"/>
<line x1="134.3" y1="644.7" x2="274.6" y2="644.7" stroke="#E5E5E5" stroke-width="0.75"/>
<line x1="134.3" y1="663.2" x2="274.6" y2="663.2" stroke="#E5E5E5" stroke-width="0.75"/>
<circle cx="268.5" cy="589.2" r="6" fill="#B17386" stroke="#000" stroke-width="0.7"/>
<circle cx="268.5" cy="607.7" r="6" fill="#AE7388" stroke="#000" stroke-width="0.7"/>
<circle cx="268.5" cy="626.2" r="6" fill="#807AA2" stroke="#000" stroke-width="0.7"/>
<circle cx="268.5" cy="644.7" r="6" fill="#627CAE" stroke="#000" stroke-width="0.7"/>
<circle cx="268.5" cy="663.2" r="6" fill="#327EBA" stroke="#000" stroke-width="0.7"/>
<rect x="134.3" y="578.1" width="140.3" height="96.2" fill="none" stroke="#333" stroke-width="0.6"/>
<rect x="274.6" y="578.1" width="14.3" height="96.2" fill="#D9D9D9" stroke="#333" stroke-width="0.6"/>
<text font-size="6.6" text-anchor="middle" fill="#1A1A1A" transform="translate(279.45,626.2) rotate(90)">CC</text>
<line x1="131.6" y1="589.2" x2="134.3" y2="589.2" stroke="#333" stroke-width="0.85"/>
<text font-size="9.8" text-anchor="end" transform="translate(130,592.53) scale(0.98,1)">cytoplasmic stress granule</text>
<line x1="131.6" y1="607.7" x2="134.3" y2="607.7" stroke="#333" stroke-width="0.85"/>
<text font-size="9.8" text-anchor="end" transform="translate(130,605.73) scale(0.98,1)">Schaffer collateral − CA1</text>
<text font-size="9.8" text-anchor="end" transform="translate(130,616.38) scale(0.98,1)">synapse</text>
<line x1="131.6" y1="626.2" x2="134.3" y2="626.2" stroke="#333" stroke-width="0.85"/>
<text font-size="9.8" text-anchor="end" transform="translate(130,629.53) scale(0.98,1)">centriole</text>
<line x1="131.6" y1="644.7" x2="134.3" y2="644.7" stroke="#333" stroke-width="0.85"/>
<text font-size="9.8" text-anchor="end" transform="translate(130,648.03) scale(0.98,1)">ruffle</text>
<line x1="131.6" y1="663.2" x2="134.3" y2="663.2" stroke="#333" stroke-width="0.85"/>
<text font-size="9.8" text-anchor="end" transform="translate(130,666.53) scale(0.98,1)">lamellipodium</text>
<rect x="134.3" y="679.5" width="140.3" height="96.3" fill="#fff"/>
<line x1="163.85" y1="679.5" x2="163.85" y2="775.8" stroke="#EFEFEF" stroke-width="0.45"/>
<line x1="193.75" y1="679.5" x2="193.75" y2="775.8" stroke="#EFEFEF" stroke-width="0.45"/>
<line x1="223.65" y1="679.5" x2="223.65" y2="775.8" stroke="#EFEFEF" stroke-width="0.45"/>
<line x1="253.55" y1="679.5" x2="253.55" y2="775.8" stroke="#EFEFEF" stroke-width="0.45"/>
<line x1="148.9" y1="679.5" x2="148.9" y2="775.8" stroke="#E5E5E5" stroke-width="0.75"/>
<line x1="178.8" y1="679.5" x2="178.8" y2="775.8" stroke="#E5E5E5" stroke-width="0.75"/>
<line x1="208.7" y1="679.5" x2="208.7" y2="775.8" stroke="#E5E5E5" stroke-width="0.75"/>
<line x1="238.6" y1="679.5" x2="238.6" y2="775.8" stroke="#E5E5E5" stroke-width="0.75"/>
<line x1="268.5" y1="679.5" x2="268.5" y2="775.8" stroke="#E5E5E5" stroke-width="0.75"/>
<line x1="134.3" y1="690.61" x2="274.6" y2="690.61" stroke="#E5E5E5" stroke-width="0.75"/>
<line x1="134.3" y1="709.13" x2="274.6" y2="709.13" stroke="#E5E5E5" stroke-width="0.75"/>
<line x1="134.3" y1="727.65" x2="274.6" y2="727.65" stroke="#E5E5E5" stroke-width="0.75"/>
<line x1="134.3" y1="746.17" x2="274.6" y2="746.17" stroke="#E5E5E5" stroke-width="0.75"/>
<line x1="134.3" y1="764.69" x2="274.6" y2="764.69" stroke="#E5E5E5" stroke-width="0.75"/>
<circle cx="140.36" cy="690.61" r="6" fill="#D7696A" stroke="#000" stroke-width="0.7"/>
<circle cx="140.36" cy="709.13" r="6" fill="#CC6C73" stroke="#000" stroke-width="0.7"/>
<circle cx="140.36" cy="727.65" r="6" fill="#B67282" stroke="#000" stroke-width="0.7"/>
<circle cx="140.36" cy="746.17" r="6" fill="#B77181" stroke="#000" stroke-width="0.7"/>
<circle cx="140.36" cy="764.69" r="6" fill="#807AA2" stroke="#000" stroke-width="0.7"/>
<rect x="134.3" y="679.5" width="140.3" height="96.3" fill="none" stroke="#333" stroke-width="0.6"/>
<rect x="274.6" y="679.5" width="14.3" height="96.3" fill="#D9D9D9" stroke="#333" stroke-width="0.6"/>
<text font-size="6.6" text-anchor="middle" fill="#1A1A1A" transform="translate(279.45,727.65) rotate(90)">MF</text>
<line x1="131.6" y1="690.61" x2="134.3" y2="690.61" stroke="#333" stroke-width="0.85"/>
<text font-size="9.8" text-anchor="end" transform="translate(130,693.94) scale(0.98,1)">tau−protein kinase activity</text>
<line x1="131.6" y1="709.13" x2="134.3" y2="709.13" stroke="#333" stroke-width="0.85"/>
<text font-size="9.8" text-anchor="end" transform="translate(130,712.46) scale(0.98,1)">receptor antagonist activity</text>
<line x1="131.6" y1="727.65" x2="134.3" y2="727.65" stroke="#333" stroke-width="0.85"/>
<text font-size="9.8" text-anchor="end" transform="translate(130,725.68) scale(0.98,1)">signaling receptor inhibitor</text>
<text font-size="9.8" text-anchor="end" transform="translate(130,736.33) scale(0.98,1)">activity</text>
<line x1="131.6" y1="746.17" x2="134.3" y2="746.17" stroke="#333" stroke-width="0.85"/>
<text font-size="9.8" text-anchor="end" transform="translate(130,749.5) scale(0.98,1)">tau protein binding</text>
<line x1="131.6" y1="764.69" x2="134.3" y2="764.69" stroke="#333" stroke-width="0.85"/>
<text font-size="9.8" text-anchor="end" transform="translate(130,768.02) scale(0.98,1)">exonuclease activity</text>
<line x1="148.9" y1="775.8" x2="148.9" y2="778.5" stroke="#333" stroke-width="0.85"/>
<text font-size="10.6" text-anchor="middle" transform="translate(148.9,786.82) scale(0.9,1)">0.150</text>
<line x1="178.8" y1="775.8" x2="178.8" y2="778.5" stroke="#333" stroke-width="0.85"/>
<text font-size="10.6" text-anchor="middle" transform="translate(178.8,786.82) scale(0.9,1)">0.175</text>
<line x1="208.7" y1="775.8" x2="208.7" y2="778.5" stroke="#333" stroke-width="0.85"/>
<text font-size="10.6" text-anchor="middle" transform="translate(208.7,786.82) scale(0.9,1)">0.200</text>
<line x1="238.6" y1="775.8" x2="238.6" y2="778.5" stroke="#333" stroke-width="0.85"/>
<text font-size="10.6" text-anchor="middle" transform="translate(238.6,786.82) scale(0.9,1)">0.225</text>
<line x1="268.5" y1="775.8" x2="268.5" y2="778.5" stroke="#333" stroke-width="0.85"/>
<text font-size="10.6" text-anchor="middle" transform="translate(268.5,786.82) scale(0.9,1)">0.250</text>
<text x="204.45" y="798.39" font-size="9.7" text-anchor="middle">GeneRatio</text>
<rect x="470.2" y="477.2" width="142.9" height="60.1" fill="#fff"/>
<line x1="488.06" y1="477.2" x2="488.06" y2="537.3" stroke="#EFEFEF" stroke-width="0.45"/>
<line x1="523.79" y1="477.2" x2="523.79" y2="537.3" stroke="#EFEFEF" stroke-width="0.45"/>
<line x1="559.51" y1="477.2" x2="559.51" y2="537.3" stroke="#EFEFEF" stroke-width="0.45"/>
<line x1="595.25" y1="477.2" x2="595.25" y2="537.3" stroke="#EFEFEF" stroke-width="0.45"/>
<line x1="505.92" y1="477.2" x2="505.92" y2="537.3" stroke="#E5E5E5" stroke-width="0.75"/>
<line x1="541.65" y1="477.2" x2="541.65" y2="537.3" stroke="#E5E5E5" stroke-width="0.75"/>
<line x1="577.38" y1="477.2" x2="577.38" y2="537.3" stroke="#E5E5E5" stroke-width="0.75"/>
<line x1="470.2" y1="507.25" x2="613.1" y2="507.25" stroke="#E5E5E5" stroke-width="0.75"/>
<circle cx="541.65" cy="507.25" r="6.2" fill="#327EBA" stroke="#000" stroke-width="0.7"/>
<rect x="470.2" y="477.2" width="142.9" height="60.1" fill="none" stroke="#333" stroke-width="0.6"/>
<rect x="613.1" y="477.2" width="13.8" height="60.1" fill="#D9D9D9" stroke="#333" stroke-width="0.6"/>
<text font-size="6.6" text-anchor="middle" fill="#1A1A1A" transform="translate(617.7,507.25) rotate(90)">BP</text>
<line x1="467.5" y1="507.25" x2="470.2" y2="507.25" stroke="#333" stroke-width="0.85"/>
<text font-size="9.8" text-anchor="end" transform="translate(466.1,505.28) scale(0.98,1)">nucleic acid phosphodiester</text>
<text font-size="9.8" text-anchor="end" transform="translate(466.1,515.93) scale(0.98,1)">bond hydrolysis</text>
<rect x="470.2" y="542.5" width="142.9" height="59.8" fill="#fff"/>
<line x1="488.06" y1="542.5" x2="488.06" y2="602.3" stroke="#EFEFEF" stroke-width="0.45"/>
<line x1="523.79" y1="542.5" x2="523.79" y2="602.3" stroke="#EFEFEF" stroke-width="0.45"/>
<line x1="559.51" y1="542.5" x2="559.51" y2="602.3" stroke="#EFEFEF" stroke-width="0.45"/>
<line x1="595.25" y1="542.5" x2="595.25" y2="602.3" stroke="#EFEFEF" stroke-width="0.45"/>
<line x1="505.92" y1="542.5" x2="505.92" y2="602.3" stroke="#E5E5E5" stroke-width="0.75"/>
<line x1="541.65" y1="542.5" x2="541.65" y2="602.3" stroke="#E5E5E5" stroke-width="0.75"/>
<line x1="577.38" y1="542.5" x2="577.38" y2="602.3" stroke="#E5E5E5" stroke-width="0.75"/>
<line x1="470.2" y1="558.81" x2="613.1" y2="558.81" stroke="#E5E5E5" stroke-width="0.75"/>
<line x1="470.2" y1="585.99" x2="613.1" y2="585.99" stroke="#E5E5E5" stroke-width="0.75"/>
<circle cx="541.65" cy="558.81" r="6.2" fill="#E06663" stroke="#000" stroke-width="0.7"/>
<circle cx="541.65" cy="585.99" r="6.2" fill="#7C7AA3" stroke="#000" stroke-width="0.7"/>
<rect x="470.2" y="542.5" width="142.9" height="59.8" fill="none" stroke="#333" stroke-width="0.6"/>
<rect x="613.1" y="542.5" width="13.8" height="59.8" fill="#D9D9D9" stroke="#333" stroke-width="0.6"/>
<text font-size="6.6" text-anchor="middle" fill="#1A1A1A" transform="translate(617.7,572.4) rotate(90)">MF</text>
<line x1="467.5" y1="558.81" x2="470.2" y2="558.81" stroke="#333" stroke-width="0.85"/>
<text font-size="9.8" text-anchor="end" transform="translate(466.1,562.14) scale(0.98,1)">exonuclease activity</text>
<line x1="467.5" y1="585.99" x2="470.2" y2="585.99" stroke="#333" stroke-width="0.85"/>
<text font-size="9.8" text-anchor="end" transform="translate(466.1,589.32) scale(0.98,1)">nuclease activity</text>
<line x1="470.19" y1="602.3" x2="470.19" y2="605" stroke="#333" stroke-width="0.85"/>
<text font-size="10.6" text-anchor="middle" transform="translate(470.19,613.62) scale(0.9,1)">0.950</text>
<line x1="505.92" y1="602.3" x2="505.92" y2="605" stroke="#333" stroke-width="0.85"/>
<text font-size="10.6" text-anchor="middle" transform="translate(505.92,613.62) scale(0.9,1)">0.975</text>
<line x1="541.65" y1="602.3" x2="541.65" y2="605" stroke="#333" stroke-width="0.85"/>
<text font-size="10.6" text-anchor="middle" transform="translate(541.65,613.62) scale(0.9,1)">1.000</text>
<line x1="577.38" y1="602.3" x2="577.38" y2="605" stroke="#333" stroke-width="0.85"/>
<text font-size="10.6" text-anchor="middle" transform="translate(577.38,613.62) scale(0.9,1)">1.025</text>
<line x1="613.11" y1="602.3" x2="613.11" y2="605" stroke="#333" stroke-width="0.85"/>
<text font-size="10.6" text-anchor="middle" transform="translate(613.11,613.62) scale(0.9,1)">1.050</text>
<text x="541.65" y="625.19" font-size="9.7" text-anchor="middle">GeneRatio</text>
<defs><linearGradient id="pg" x1="0" y1="0" x2="0" y2="1"><stop offset="0" stop-color="#E06663"/><stop offset="0.12" stop-color="#D26B6E"/><stop offset="0.25" stop-color="#C46F79"/><stop offset="0.38" stop-color="#B47284"/><stop offset="0.5" stop-color="#A3758E"/><stop offset="0.62" stop-color="#907899"/><stop offset="0.75" stop-color="#7A7AA4"/><stop offset="0.88" stop-color="#5E7CAF"/><stop offset="1" stop-color="#327EBA"/></linearGradient></defs>
<text x="302" y="570.67" font-size="8.8">p.adjust</text>
<rect x="302" y="575.9" width="13.9" height="68.8" fill="url(#pg)"/>
<line x1="302" y1="589.3" x2="304.8" y2="589.3" stroke="#fff" stroke-width="0.5"/>
<line x1="313.1" y1="589.3" x2="315.9" y2="589.3" stroke="#fff" stroke-width="0.5"/>
<text x="320" y="591.86" font-size="7.1">0.01</text>
<line x1="302" y1="607.4" x2="304.8" y2="607.4" stroke="#fff" stroke-width="0.5"/>
<line x1="313.1" y1="607.4" x2="315.9" y2="607.4" stroke="#fff" stroke-width="0.5"/>
<text x="320" y="609.96" font-size="7.1">0.02</text>
<line x1="302" y1="625.4" x2="304.8" y2="625.4" stroke="#fff" stroke-width="0.5"/>
<line x1="313.1" y1="625.4" x2="315.9" y2="625.4" stroke="#fff" stroke-width="0.5"/>
<text x="320" y="627.96" font-size="7.1">0.03</text>
<line x1="302" y1="643.4" x2="304.8" y2="643.4" stroke="#fff" stroke-width="0.5"/>
<line x1="313.1" y1="643.4" x2="315.9" y2="643.4" stroke="#fff" stroke-width="0.5"/>
<text x="320" y="645.96" font-size="7.1">0.04</text>
<text x="302" y="669.77" font-size="8.8">Count</text>
<circle cx="309" cy="682.5" r="5.9" fill="#000"/>
<text x="321.6" y="685.06" font-size="7.1">1</text>
<text x="640" y="483.57" font-size="8.8">p.adjust</text>
<rect x="640" y="488.7" width="13.9" height="69.3" fill="url(#pg)"/>
<line x1="640" y1="494.6" x2="642.8" y2="494.6" stroke="#fff" stroke-width="0.5"/>
<line x1="651.1" y1="494.6" x2="653.9" y2="494.6" stroke="#fff" stroke-width="0.5"/>
<text x="658.8" y="497.16" font-size="7.1">0.0050</text>
<line x1="640" y1="514" x2="642.8" y2="514" stroke="#fff" stroke-width="0.5"/>
<line x1="651.1" y1="514" x2="653.9" y2="514" stroke="#fff" stroke-width="0.5"/>
<text x="658.8" y="516.56" font-size="7.1">0.0075</text>
<line x1="640" y1="533.3" x2="642.8" y2="533.3" stroke="#fff" stroke-width="0.5"/>
<line x1="651.1" y1="533.3" x2="653.9" y2="533.3" stroke="#fff" stroke-width="0.5"/>
<text x="658.8" y="535.86" font-size="7.1">0.0100</text>
<line x1="640" y1="552.7" x2="642.8" y2="552.7" stroke="#fff" stroke-width="0.5"/>
<line x1="651.1" y1="552.7" x2="653.9" y2="552.7" stroke="#fff" stroke-width="0.5"/>
<text x="658.8" y="555.26" font-size="7.1">0.0125</text>
<text x="640" y="583.47" font-size="8.8">Count</text>
<circle cx="647" cy="596.4" r="5.9" fill="#000"/>
<text x="660.4" y="598.96" font-size="7.1">1</text>
</svg>
</body></html>
